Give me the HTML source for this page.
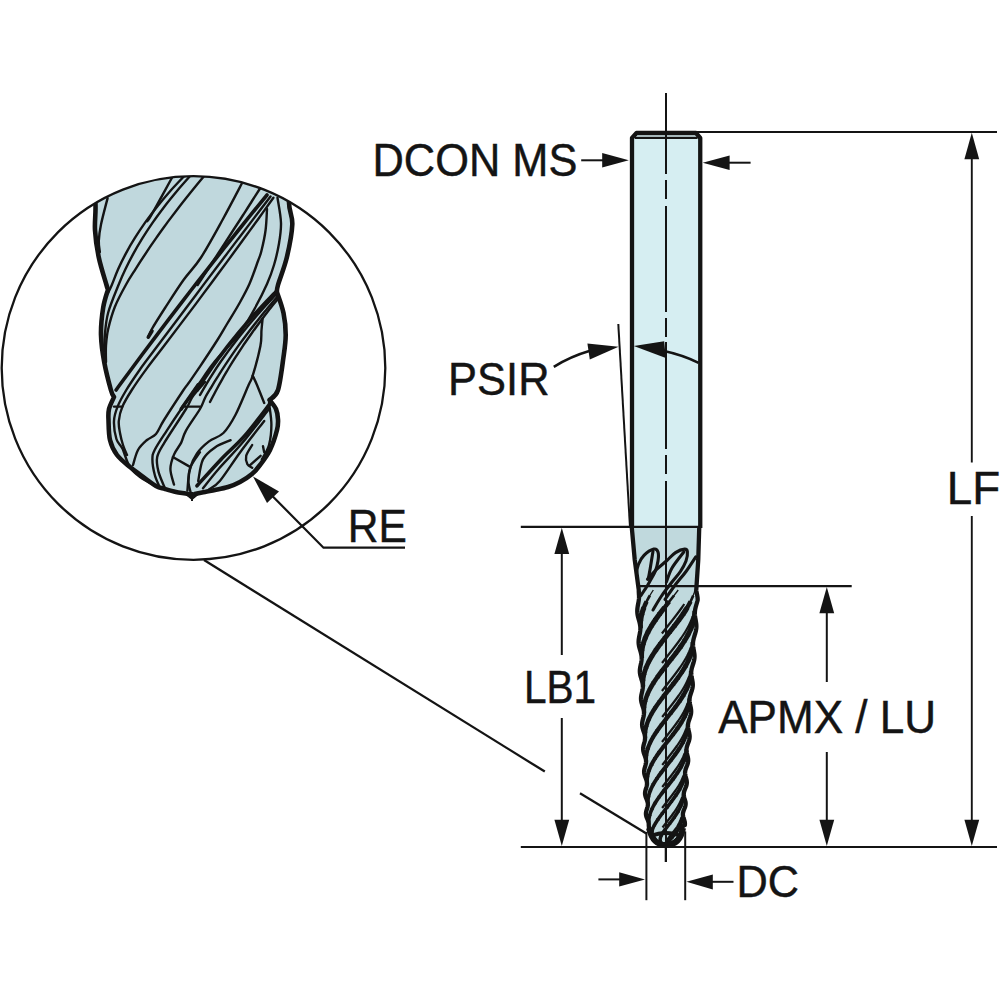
<!DOCTYPE html>
<html><head><meta charset="utf-8"><style>
html,body{margin:0;padding:0;background:#fff;width:1000px;height:1000px;overflow:hidden}
svg{display:block}
text{font-family:"Liberation Sans",sans-serif;fill:#141414;stroke:#141414;stroke-width:0.45px}
</style></head><body>
<svg width="1000" height="1000" viewBox="0 0 1000 1000">
<clipPath id="circclip"><circle cx="193.5" cy="368" r="191.7"/></clipPath>
<g clip-path="url(#circclip)">
<path d="M93.0,165.0 C93.4,171.6 95.2,193.9 95.5,204.7 C95.8,215.5 94.5,221.2 95.0,230.0 C95.5,238.8 96.9,248.3 98.8,257.5 C100.7,266.7 105.0,279.7 106.5,285.0 C108.0,290.3 107.8,288.8 108.0,289.5 C107.2,292.5 104.4,299.9 103.2,307.5 C102.0,315.1 100.8,325.8 101.0,335.0 C101.2,344.2 102.6,353.3 104.3,362.5 C106.0,371.7 109.3,384.2 110.9,390.0 C112.5,395.8 113.5,395.8 114.0,397.0 C113.2,399.0 109.9,405.2 109.0,409.0 C108.1,412.8 108.3,414.8 108.5,420.0 C108.7,425.2 108.6,434.2 110.0,440.0 C111.4,445.8 113.7,450.5 117.0,455.0 C120.3,459.5 125.8,463.5 130.0,467.0 C134.2,470.5 137.7,472.8 142.0,476.0 C146.3,479.2 152.2,483.8 156.0,486.0 C159.8,488.2 161.7,488.0 165.0,489.0 C168.3,490.0 172.2,491.2 176.0,492.0 C179.8,492.8 185.2,493.3 188.0,494.0 C190.8,494.7 191.8,495.7 192.5,496.0 C192.9,495.7 192.9,494.7 195.0,494.0 C197.1,493.3 201.7,492.7 205.0,492.0 C208.3,491.3 211.2,490.8 215.0,490.0 C218.8,489.2 223.8,488.3 228.0,487.0 C232.2,485.7 236.0,484.2 240.0,482.0 C244.0,479.8 248.7,476.8 252.0,474.0 C255.3,471.2 257.0,469.0 260.0,465.0 C263.0,461.0 267.2,455.8 270.0,450.0 C272.8,444.2 275.7,435.1 277.0,430.0 C278.3,424.9 278.2,422.9 278.0,419.4 C277.8,415.9 277.4,412.2 276.0,409.0 C274.6,405.8 270.6,401.5 269.5,400.0 C270.9,398.3 275.7,397.2 278.0,390.0 C280.3,382.8 282.2,366.2 283.5,357.0 C284.8,347.8 285.7,342.3 285.7,335.0 C285.7,327.7 285.0,320.2 283.5,313.0 C282.0,305.8 278.0,295.5 276.9,292.0 C277.1,290.8 276.4,290.8 278.0,285.0 C279.6,279.2 284.4,267.6 286.8,257.5 C289.2,247.4 291.9,233.7 292.3,224.5 C292.7,215.3 289.1,212.4 289.0,202.5 C288.9,192.6 291.5,171.2 292.0,165.0 Z" fill="#c0d8dd"/>
<g fill="none" stroke="#141414" stroke-width="2.4" stroke-linecap="round" stroke-linejoin="round">
<path d="M107.6,198.1 C106.5,202.5 102.5,217.3 101.0,224.5 C99.5,231.7 99.0,236.4 98.8,241.0 C98.6,245.6 99.7,250.2 99.9,252.0"/>
<path d="M173.0,176.0 C169.4,182.4 155.9,207.1 151.6,214.6 C147.3,222.1 147.9,220.1 147.2,221.2"/>
<path d="M185.2,175.0 C182.8,177.6 175.2,185.5 170.5,190.7 C165.9,196.0 161.5,201.2 157.3,206.4 C153.1,211.7 149.1,216.9 145.4,222.1 C141.7,227.4 138.2,232.6 134.9,237.9 C131.6,243.1 128.6,248.3 125.8,253.6 C123.0,258.8 120.4,264.0 118.1,269.3 C115.8,274.5 113.5,281.0 111.8,285.0 C110.1,289.0 108.6,291.7 108.0,293.0"/>
<path d="M191.0,175.0 C188.7,177.6 181.6,185.5 177.2,190.7 C172.8,196.0 168.5,201.2 164.5,206.4 C160.5,211.7 156.6,216.9 153.0,222.1 C149.3,227.4 145.9,232.6 142.6,237.9 C139.4,243.1 136.3,248.3 133.4,253.6 C130.5,258.8 127.9,264.0 125.4,269.3 C122.9,274.5 121.4,277.8 118.5,285.0 C115.6,292.2 110.5,304.2 108.2,312.5 C105.9,320.8 105.5,328.1 104.9,334.5 C104.3,340.9 104.6,348.2 104.5,351.0"/>
<path d="M205.0,175.0 C202.8,177.6 196.2,185.5 192.0,190.7 C187.7,196.0 183.6,201.2 179.5,206.4 C175.5,211.7 171.5,216.9 167.6,222.1 C163.8,227.4 160.0,232.6 156.3,237.9 C152.6,243.1 149.0,248.3 145.6,253.6 C142.1,258.8 138.7,264.0 135.4,269.3 C132.1,274.5 129.2,278.7 125.8,285.0 C122.3,291.3 117.7,299.7 114.8,307.0 C111.9,314.3 109.7,322.6 108.2,329.0 C106.7,335.4 106.4,340.0 106.0,345.5 C105.6,351.0 106.0,359.2 106.0,362.0"/>
<path d="M241.7,183.8 C238.6,189.7 229.8,206.7 223.0,219.0 C216.2,231.3 207.6,247.3 201.0,257.5 C194.4,267.7 189.5,271.6 183.5,280.0 C177.5,288.4 170.3,299.8 165.0,308.0 C159.7,316.2 154.4,324.6 151.6,329.5 C148.8,334.4 148.9,335.9 148.3,337.2"/>
<path d="M261.0,187.0 C259.5,189.3 255.0,196.3 252.0,201.0 C249.1,205.7 246.1,210.3 243.1,215.0 C240.1,219.7 237.1,224.3 234.0,229.0 C231.0,233.7 228.0,238.3 225.0,243.0 C222.0,247.7 218.9,252.3 215.9,257.0 C212.8,261.7 209.8,266.3 206.7,271.0 C203.7,275.7 199.1,282.7 197.6,285.0"/>
<path d="M270.5,196.4 C267.8,200.0 259.6,210.7 254.2,217.9 C248.7,225.1 243.3,232.3 237.8,239.4 C232.4,246.6 227.0,253.8 221.5,260.9 C216.1,268.1 210.7,275.3 205.3,282.4 C199.9,289.6 194.5,296.8 189.1,304.0 C183.7,311.1 178.3,318.3 172.9,325.5 C167.5,332.6 162.1,339.8 156.7,347.0 C151.4,354.1 145.7,361.3 140.6,368.5 C135.6,375.7 130.1,383.6 126.3,390.0 C122.5,396.4 119.6,401.4 117.6,406.6 C115.5,411.8 114.2,415.6 114.0,421.0 C113.8,426.4 115.0,434.4 116.4,439.0 C117.8,443.6 120.2,444.0 122.4,448.6 C124.6,453.2 126.7,461.9 129.6,466.6 C132.5,471.3 135.4,473.6 140.0,477.0 C144.6,480.4 154.3,485.3 157.2,487.0"/>
<path d="M273.4,197.8 C270.8,201.4 263.2,212.0 258.1,219.2 C252.9,226.3 247.8,233.4 242.6,240.5 C237.4,247.6 232.2,254.7 227.0,261.9 C221.7,269.0 216.5,276.1 211.2,283.2 C205.9,290.3 200.6,297.5 195.3,304.6 C190.0,311.7 184.6,318.8 179.2,325.9 C173.8,333.1 168.4,340.2 163.0,347.3 C157.6,354.4 151.9,361.5 146.7,368.6 C141.4,375.8 135.8,383.7 131.8,390.0 C127.8,396.3 124.6,401.4 122.4,406.6 C120.2,411.8 119.2,416.6 118.8,421.0 C118.4,425.4 119.3,429.0 120.0,433.0 C120.7,437.0 121.8,441.3 123.0,445.0 C124.2,448.7 126.3,453.3 127.0,455.0"/>
<path d="M267.0,209.0 C266.8,212.5 266.5,223.0 265.6,230.0 C264.7,237.0 262.7,245.8 261.4,251.0 C260.1,256.2 260.0,255.5 258.0,261.0 C256.0,266.5 252.6,276.8 249.4,284.0 C246.2,291.2 242.7,297.3 239.0,304.0 C235.3,310.7 230.6,318.0 227.0,324.0 C223.4,330.0 221.4,333.7 217.4,340.0 C213.4,346.3 207.6,355.1 203.0,362.0 C198.4,368.9 193.2,376.5 190.0,381.2 C186.8,385.9 187.8,383.5 183.5,390.0 C179.2,396.5 168.6,412.7 164.0,420.0 C159.4,427.3 158.8,430.7 156.0,434.0 C153.2,437.3 150.0,437.3 147.0,440.0 C144.0,442.7 140.3,445.8 138.0,450.0 C135.7,454.2 133.8,462.5 133.0,465.0"/>
<path d="M277.5,197.8 C278.1,202.0 280.8,215.3 281.0,223.0 C281.2,230.7 280.1,237.0 278.9,244.0 C277.7,251.0 276.0,258.3 274.0,265.0 C272.0,271.7 270.2,276.8 267.0,284.0 C263.8,291.2 259.4,300.0 255.0,308.0 C250.6,316.0 245.6,325.0 240.6,332.0 C235.6,339.0 229.8,344.5 225.0,350.0 C220.2,355.5 216.5,359.2 212.0,365.0 C207.5,370.8 203.1,377.7 198.0,385.0 C192.9,392.3 186.4,401.4 181.2,409.0 C176.0,416.6 171.2,423.8 166.8,430.6 C162.4,437.4 157.2,445.0 154.8,449.8 C152.4,454.6 152.4,455.2 152.4,459.4 C152.4,463.6 153.6,470.4 154.8,475.0 C156.0,479.6 158.8,485.0 159.6,487.0"/>
<path d="M205.0,382.0 C203.0,384.3 196.2,391.5 193.0,396.0 C189.8,400.5 190.8,401.2 186.0,409.0 C181.2,416.8 169.2,434.6 164.4,442.6 C159.6,450.6 158.2,452.2 157.2,457.0 C156.2,461.8 157.2,466.4 158.4,471.4 C159.6,476.4 163.4,484.4 164.4,487.0"/>
<path d="M276.5,294.0 C274.8,295.9 269.4,301.5 266.0,305.2 C262.6,309.0 259.3,312.7 256.0,316.4 C252.8,320.2 249.6,323.9 246.5,327.7 C243.5,331.4 240.5,335.1 237.5,338.9 C234.6,342.6 231.8,346.4 229.0,350.1 C226.3,353.9 223.6,357.6 221.0,361.3 C218.4,365.1 215.9,368.8 213.5,372.6 C211.1,376.3 208.8,380.0 206.5,383.8 C204.3,387.5 201.1,393.1 200.0,395.0"/>
<path d="M277.0,297.0 C275.4,298.9 270.6,304.5 267.5,308.2 C264.4,312.0 261.3,315.7 258.4,319.4 C255.4,323.2 252.5,326.9 249.6,330.7 C246.8,334.4 244.0,338.1 241.2,341.9 C238.5,345.6 235.8,349.4 233.2,353.1 C230.6,356.9 228.1,360.6 225.6,364.3 C223.1,368.1 220.7,371.8 218.4,375.6 C216.0,379.3 213.7,383.0 211.5,386.8 C209.3,390.5 206.9,394.3 205.0,398.0 C203.1,401.7 203.2,403.6 200.0,409.0 C196.8,414.4 189.1,425.0 186.0,430.6 C182.9,436.2 183.2,438.6 181.2,442.6 C179.2,446.6 175.8,450.2 174.0,454.6 C172.2,459.0 170.4,464.0 170.4,469.0 C170.4,474.0 173.4,482.0 174.0,484.6"/>
<path d="M277.0,300.0 C275.5,301.9 270.9,307.6 268.0,311.3 C265.1,315.1 262.2,318.9 259.4,322.7 C256.6,326.4 253.9,330.2 251.2,334.0 C248.5,337.8 245.9,341.6 243.3,345.3 C240.8,349.1 238.3,352.9 235.9,356.7 C233.5,360.4 231.1,364.2 228.8,368.0 C226.6,371.8 224.3,375.6 222.2,379.3 C220.0,383.1 217.9,386.9 215.9,390.7 C213.9,394.4 211.0,400.1 210.0,402.0"/>
<path d="M262.6,318.5 C262.4,320.4 261.9,325.4 261.5,330.0 C261.1,334.6 261.9,338.4 260.4,346.0 C258.9,353.6 254.7,369.2 252.7,375.7 C250.7,382.2 251.5,378.4 248.6,385.0 C245.7,391.6 239.6,407.0 235.4,415.0 C231.2,423.0 227.8,428.6 223.4,433.0 C219.0,437.4 213.4,438.0 209.0,441.4 C204.6,444.8 200.2,448.8 197.0,453.4 C193.8,458.0 191.4,462.8 189.8,469.0 C188.2,475.2 187.8,487.0 187.4,490.6"/>
<path d="M252.7,375.7 C253.4,377.2 255.1,380.4 257.0,385.0 C258.9,389.6 263.0,400.0 264.2,403.0"/>
<path d="M269.0,403.0 C269.4,406.6 271.4,417.6 271.4,424.6 C271.4,431.6 270.6,439.2 269.0,445.0 C267.4,450.8 263.0,457.0 261.8,459.4"/>
<path d="M269.0,409.0 C264.6,414.6 251.0,432.6 242.6,442.6 C234.2,452.6 225.2,461.4 218.6,469.0 C212.0,476.6 205.6,485.0 203.0,488.2"/>
<path d="M264.2,421.0 C260.2,426.2 247.6,442.2 240.2,452.2 C232.8,462.2 225.0,474.8 219.8,481.0 C214.6,487.2 210.8,488.0 209.0,489.4"/>
<path d="M230.6,440.2 C228.0,441.4 219.6,444.2 215.0,447.4 C210.4,450.6 205.8,453.8 203.0,459.4 C200.2,465.0 199.0,477.4 198.2,481.0"/>
<path d="M252.2,445.0 C251.2,446.8 247.0,452.6 246.2,455.8 C245.4,459.0 246.4,462.2 247.4,464.2 C248.4,466.2 251.4,467.2 252.2,467.8"/>
<path d="M249.8,465.4 L260.6,455.8"/>
<path d="M263.0,446.2 L264.2,452.2"/>
<path d="M114.0,406.6 L122.4,406.6"/>
<path d="M182.4,406.6 L200.0,406.6"/>
<path d="M200.0,452.2 C198.5,454.6 192.7,461.8 190.8,466.6 C188.9,471.4 188.4,476.6 188.4,481.0 C188.4,485.4 190.4,491.0 190.8,493.0"/>
<path d="M172.8,457.0 L189.6,466.6"/>
</g>
<g fill="none" stroke="#141414" stroke-width="3.6" stroke-linecap="round" stroke-linejoin="round">
<path d="M267.0,195.0 C264.6,198.0 257.3,206.8 252.5,212.7 C247.7,218.6 243.0,224.5 238.2,230.5 C233.5,236.4 228.8,242.3 224.1,248.2 C219.4,254.1 214.7,260.0 210.1,265.9 C205.4,271.8 200.8,277.7 196.2,283.6 C191.6,289.5 187.0,295.5 182.5,301.4 C177.9,307.3 173.4,313.2 168.9,319.1 C164.4,325.0 159.9,330.9 155.5,336.8 C151.0,342.7 146.6,348.6 142.2,354.5 C137.8,360.5 133.4,366.4 129.1,372.3 C124.7,378.2 118.2,387.0 116.1,390.0"/>
<path d="M275.7,292.0 C273.9,293.8 268.6,299.3 265.1,302.9 C261.7,306.5 258.3,310.1 255.0,313.8 C251.8,317.4 248.5,321.0 245.4,324.7 C242.3,328.3 239.2,331.9 236.2,335.6 C233.2,339.2 230.3,342.8 227.5,346.4 C224.7,350.1 221.9,353.7 219.2,357.3 C216.6,361.0 214.0,364.6 211.4,368.2 C208.9,371.9 206.5,375.5 204.1,379.1 C201.7,382.7 198.3,388.2 197.2,390.0"/>
<path d="M271.4,401.8 C267.0,407.4 253.4,425.8 245.0,435.4 C236.6,445.0 229.0,451.0 221.0,459.4 C213.0,467.8 201.0,481.4 197.0,485.8"/>
<path d="M198.0,385.0 L181.2,409.0"/>
<path d="M152.0,331.0 L148.3,337.2"/>
</g>
<path d="M93.0,165.0 C93.4,171.6 95.2,193.9 95.5,204.7 C95.8,215.5 94.5,221.2 95.0,230.0 C95.5,238.8 96.9,248.3 98.8,257.5 C100.7,266.7 105.0,279.7 106.5,285.0 C108.0,290.3 107.8,288.8 108.0,289.5 C107.2,292.5 104.4,299.9 103.2,307.5 C102.0,315.1 100.8,325.8 101.0,335.0 C101.2,344.2 102.6,353.3 104.3,362.5 C106.0,371.7 109.3,384.2 110.9,390.0 C112.5,395.8 113.5,395.8 114.0,397.0 C113.2,399.0 109.9,405.2 109.0,409.0 C108.1,412.8 108.3,414.8 108.5,420.0 C108.7,425.2 108.6,434.2 110.0,440.0 C111.4,445.8 113.7,450.5 117.0,455.0 C120.3,459.5 125.8,463.5 130.0,467.0 C134.2,470.5 137.7,472.8 142.0,476.0 C146.3,479.2 152.2,483.8 156.0,486.0 C159.8,488.2 161.7,488.0 165.0,489.0 C168.3,490.0 172.2,491.2 176.0,492.0 C179.8,492.8 185.2,493.3 188.0,494.0 C190.8,494.7 191.8,495.7 192.5,496.0" fill="none" stroke="#141414" stroke-width="4.6" stroke-linejoin="round"/>
<path d="M292.0,165.0 C291.5,171.2 288.9,192.6 289.0,202.5 C289.1,212.4 292.7,215.3 292.3,224.5 C291.9,233.7 289.2,247.4 286.8,257.5 C284.4,267.6 279.6,279.2 278.0,285.0 C276.4,290.8 277.1,290.8 276.9,292.0 C278.0,295.5 282.0,305.8 283.5,313.0 C285.0,320.2 285.7,327.7 285.7,335.0 C285.7,342.3 284.8,347.8 283.5,357.0 C282.2,366.2 280.3,382.8 278.0,390.0 C275.7,397.2 270.9,398.3 269.5,400.0 C270.6,401.5 274.6,405.8 276.0,409.0 C277.4,412.2 277.8,415.9 278.0,419.4 C278.2,422.9 278.3,424.9 277.0,430.0 C275.7,435.1 272.8,444.2 270.0,450.0 C267.2,455.8 263.0,461.0 260.0,465.0 C257.0,469.0 255.3,471.2 252.0,474.0 C248.7,476.8 244.0,479.8 240.0,482.0 C236.0,484.2 232.2,485.7 228.0,487.0 C223.8,488.3 218.8,489.2 215.0,490.0 C211.2,490.8 208.3,491.3 205.0,492.0 C201.7,492.7 197.1,493.3 195.0,494.0 C192.9,494.7 192.9,495.7 192.5,496.0" fill="none" stroke="#141414" stroke-width="4.6" stroke-linejoin="round"/>
<path d="M186,494 L192,499 L198,494 M192,492 L192,501" stroke="#141414" stroke-width="2" fill="none"/>
</g>
<path d="M632,138 L636.5,133 L696,133 L700.25,138 L700.25,527 L632,527 Z" fill="#d6eef2"/>
<line x1="635" y1="137.9" x2="697.5" y2="137.9" stroke="#141414" stroke-width="2.3"/>
<clipPath id="bodyclip"><path d="M631.75,527.00 L631.84,528.00 L631.93,529.00 L632.02,530.00 L632.11,531.00 L632.20,532.00 L632.30,533.00 L632.39,534.00 L632.48,535.00 L632.57,536.00 L632.66,537.00 L632.75,538.00 L632.84,539.00 L632.93,540.00 L633.02,541.00 L633.11,542.00 L633.20,543.00 L633.30,544.00 L633.39,545.00 L633.48,546.00 L633.57,547.00 L633.66,548.00 L633.75,549.00 L633.84,550.00 L633.93,551.00 L634.02,552.00 L634.11,553.00 L634.20,554.00 L634.30,555.00 L634.39,556.00 L634.48,557.00 L634.57,558.00 L634.66,559.00 L634.75,560.00 L634.88,561.00 L635.02,562.00 L635.15,563.00 L635.28,564.00 L635.42,565.00 L635.55,566.00 L635.68,567.00 L635.82,568.00 L635.95,569.00 L636.08,570.00 L636.22,571.00 L636.35,572.00 L636.48,573.00 L636.62,574.00 L636.75,575.00 L636.88,576.00 L637.02,577.00 L637.15,578.00 L637.28,579.00 L637.42,580.00 L637.55,581.00 L637.68,582.00 L637.82,583.00 L637.95,584.00 L638.08,585.00 L638.22,586.00 L638.35,587.00 L638.48,588.00 L638.62,589.00 L638.75,590.00 L638.75,591.00 L638.77,592.00 L638.83,593.00 L638.89,594.00 L638.96,595.00 L639.01,596.00 L639.03,597.00 L639.01,598.00 L638.93,599.00 L638.80,600.00 L638.66,601.00 L638.50,602.00 L638.32,603.00 L638.13,604.00 L637.94,605.00 L637.76,606.00 L637.59,607.00 L637.46,608.00 L637.35,609.00 L637.29,610.00 L637.26,611.00 L637.29,612.00 L637.36,613.00 L637.47,614.00 L637.63,615.00 L637.83,616.00 L638.06,617.00 L638.32,618.00 L638.59,619.00 L638.87,620.00 L639.16,621.00 L639.43,622.00 L639.68,623.00 L639.90,624.00 L640.08,625.00 L640.22,626.00 L640.32,627.00 L640.37,628.00 L640.36,629.00 L640.31,630.00 L640.22,631.00 L640.08,632.00 L639.92,633.00 L639.73,634.00 L639.53,635.00 L639.32,636.00 L639.12,637.00 L638.94,638.00 L638.79,639.00 L638.68,640.00 L638.61,641.00 L638.58,642.00 L638.61,643.00 L638.69,644.00 L638.82,645.00 L639.00,646.00 L639.22,647.00 L639.48,648.00 L639.76,649.00 L640.06,650.00 L640.35,651.00 L640.64,652.00 L640.91,653.00 L641.15,654.00 L641.35,655.00 L641.50,656.00 L641.60,657.00 L641.64,658.00 L641.63,659.00 L641.56,660.00 L641.45,661.00 L641.29,662.00 L641.11,663.00 L640.90,664.00 L640.68,665.00 L640.46,666.00 L640.26,667.00 L640.08,668.00 L639.95,669.00 L639.86,670.00 L639.82,671.00 L639.85,672.00 L639.93,673.00 L640.07,674.00 L640.26,675.00 L640.50,676.00 L640.78,677.00 L641.08,678.00 L641.39,679.00 L641.70,680.00 L641.99,681.00 L642.26,682.00 L642.49,683.00 L642.66,684.00 L642.78,685.00 L642.84,686.00 L642.83,687.00 L642.77,688.00 L642.64,689.00 L642.48,690.00 L642.27,691.00 L642.04,692.00 L641.81,693.00 L641.58,694.00 L641.37,695.00 L641.20,696.00 L641.07,697.00 L641.00,698.00 L641.00,699.00 L641.06,700.00 L641.19,701.00 L641.38,702.00 L641.62,703.00 L641.91,704.00 L642.22,705.00 L642.55,706.00 L642.88,707.00 L643.18,708.00 L643.46,709.00 L643.68,710.00 L643.85,711.00 L643.95,712.00 L643.97,713.00 L643.93,714.00 L643.83,715.00 L643.66,716.00 L643.45,717.00 L643.21,718.00 L642.96,719.00 L642.71,720.00 L642.49,721.00 L642.30,722.00 L642.17,723.00 L642.10,724.00 L642.10,725.00 L642.18,726.00 L642.34,727.00 L642.56,728.00 L642.83,729.00 L643.15,730.00 L643.49,731.00 L643.84,732.00 L644.17,733.00 L644.47,734.00 L644.72,735.00 L644.90,736.00 L645.01,737.00 L645.04,738.00 L644.99,739.00 L644.87,740.00 L644.68,741.00 L644.45,742.00 L644.18,743.00 L643.91,744.00 L643.65,745.00 L643.43,746.00 L643.26,747.00 L643.15,748.00 L643.13,749.00 L643.19,750.00 L643.33,751.00 L643.55,752.00 L643.84,753.00 L644.17,754.00 L644.53,755.00 L644.90,756.00 L645.24,757.00 L645.55,758.00 L645.79,759.00 L645.96,760.00 L646.04,761.00 L646.03,762.00 L645.93,763.00 L645.76,764.00 L645.52,765.00 L645.25,766.00 L644.96,767.00 L644.68,768.00 L644.43,769.00 L644.24,770.00 L644.13,771.00 L644.11,772.00 L644.18,773.00 L644.35,774.00 L644.60,775.00 L644.92,776.00 L645.28,777.00 L645.67,778.00 L646.04,779.00 L646.39,780.00 L646.67,781.00 L646.87,782.00 L646.97,783.00 L646.98,784.00 L646.89,785.00 L646.70,786.00 L646.45,787.00 L646.16,788.00 L645.85,789.00 L645.55,790.00 L645.30,791.00 L645.12,792.00 L645.03,793.00 L645.05,794.00 L645.17,795.00 L645.40,796.00 L645.71,797.00 L646.08,798.00 L646.48,799.00 L646.88,800.00 L647.25,801.00 L647.56,802.00 L647.77,803.00 L647.88,804.00 L647.87,805.00 L647.75,806.00 L647.54,807.00 L647.26,808.00 L646.94,809.00 L646.61,810.00 L646.32,811.00 L646.09,812.00 L645.95,813.00 L645.92,814.00 L646.01,815.00 L646.21,816.00 L646.51,817.00 L646.89,818.00 L647.31,819.00 L647.73,820.00 L648.12,821.00 L648.44,822.00 L648.66,823.00 L648.76,824.00 L648.73,825.00 L648.85,826.57 L649.01,828.13 L649.27,829.67 L649.62,831.18 L650.08,832.65 L650.64,834.08 L651.28,835.45 L652.02,836.76 L652.84,837.99 L653.74,839.14 L654.71,840.21 L655.75,841.18 L656.85,842.05 L658.00,842.82 L659.20,843.48 L660.44,844.02 L661.72,844.45 L663.01,844.75 L664.33,844.94 L665.65,845.00 L666.97,844.94 L668.29,844.75 L669.58,844.45 L670.86,844.02 L672.10,843.48 L673.30,842.82 L674.45,842.05 L675.55,841.18 L676.59,840.21 L677.56,839.14 L678.46,837.99 L679.28,836.76 L680.02,835.45 L680.66,834.08 L681.22,832.65 L681.68,831.18 L682.03,829.67 L682.29,828.13 L682.45,826.57 L684.83,825.00 L684.94,824.00 L684.92,823.00 L684.78,822.00 L684.54,821.00 L684.23,820.00 L683.89,819.00 L683.55,818.00 L683.25,817.00 L683.03,816.00 L682.91,815.00 L682.90,814.00 L683.01,813.00 L683.23,812.00 L683.54,811.00 L683.91,810.00 L684.32,809.00 L684.72,808.00 L685.08,807.00 L685.37,806.00 L685.57,805.00 L685.66,804.00 L685.63,803.00 L685.50,802.00 L685.27,801.00 L684.98,800.00 L684.68,799.00 L684.38,798.00 L684.12,797.00 L683.91,796.00 L683.79,795.00 L683.77,794.00 L683.86,793.00 L684.05,792.00 L684.33,791.00 L684.69,790.00 L685.09,789.00 L685.50,788.00 L685.90,787.00 L686.26,786.00 L686.54,785.00 L686.74,784.00 L686.84,783.00 L686.84,782.00 L686.74,781.00 L686.56,780.00 L686.32,779.00 L686.05,778.00 L685.77,777.00 L685.51,776.00 L685.29,775.00 L685.15,774.00 L685.08,773.00 L685.12,772.00 L685.24,771.00 L685.46,770.00 L685.75,769.00 L686.10,768.00 L686.48,767.00 L686.88,766.00 L687.26,765.00 L687.59,764.00 L687.87,763.00 L688.07,762.00 L688.19,761.00 L688.21,760.00 L688.15,759.00 L688.01,758.00 L687.81,757.00 L687.57,756.00 L687.30,755.00 L687.05,754.00 L686.82,753.00 L686.64,752.00 L686.52,751.00 L686.48,750.00 L686.52,749.00 L686.65,748.00 L686.86,747.00 L687.14,746.00 L687.46,745.00 L687.83,744.00 L688.20,743.00 L688.57,742.00 L688.91,741.00 L689.20,740.00 L689.42,739.00 L689.58,738.00 L689.65,737.00 L689.65,736.00 L689.57,735.00 L689.42,734.00 L689.23,733.00 L689.00,732.00 L688.76,731.00 L688.52,730.00 L688.30,729.00 L688.13,728.00 L688.01,727.00 L687.97,726.00 L687.99,725.00 L688.09,724.00 L688.26,723.00 L688.50,722.00 L688.79,721.00 L689.12,720.00 L689.47,719.00 L689.82,718.00 L690.17,717.00 L690.48,716.00 L690.75,715.00 L690.96,714.00 L691.11,713.00 L691.18,712.00 L691.19,711.00 L691.12,710.00 L691.00,709.00 L690.83,708.00 L690.63,707.00 L690.41,706.00 L690.18,705.00 L689.97,704.00 L689.79,703.00 L689.65,702.00 L689.56,701.00 L689.54,700.00 L689.58,699.00 L689.69,698.00 L689.86,697.00 L690.09,696.00 L690.37,695.00 L690.68,694.00 L691.01,693.00 L691.35,692.00 L691.69,691.00 L691.99,690.00 L692.27,689.00 L692.49,688.00 L692.66,687.00 L692.77,686.00 L692.82,685.00 L692.81,684.00 L692.73,683.00 L692.61,682.00 L692.45,681.00 L692.26,680.00 L692.05,679.00 L691.84,678.00 L691.64,677.00 L691.47,676.00 L691.34,675.00 L691.25,674.00 L691.21,673.00 L691.23,672.00 L691.31,671.00 L691.45,670.00 L691.65,669.00 L691.89,668.00 L692.16,667.00 L692.47,666.00 L692.79,665.00 L693.11,664.00 L693.43,663.00 L693.72,662.00 L693.98,661.00 L694.20,660.00 L694.37,659.00 L694.48,658.00 L694.54,657.00 L694.55,656.00 L694.50,655.00 L694.40,654.00 L694.27,653.00 L694.11,652.00 L693.92,651.00 L693.73,650.00 L693.54,649.00 L693.36,648.00 L693.21,647.00 L693.09,646.00 L693.01,645.00 L692.99,644.00 L693.01,643.00 L693.08,642.00 L693.21,641.00 L693.39,640.00 L693.61,639.00 L693.86,638.00 L694.14,637.00 L694.45,636.00 L694.75,635.00 L695.06,634.00 L695.35,633.00 L695.62,632.00 L695.86,631.00 L696.06,630.00 L696.21,629.00 L696.32,628.00 L696.38,627.00 L696.39,626.00 L696.35,625.00 L696.27,624.00 L696.15,623.00 L696.00,622.00 L695.84,621.00 L695.66,620.00 L695.48,619.00 L695.31,618.00 L695.16,617.00 L695.03,616.00 L694.94,615.00 L694.88,614.00 L694.87,613.00 L694.90,612.00 L694.98,611.00 L695.11,610.00 L695.28,609.00 L695.49,608.00 L695.73,607.00 L696.00,606.00 L696.28,605.00 L696.57,604.00 L696.87,603.00 L697.15,602.00 L697.42,601.00 L697.66,600.00 L697.66,599.00 L697.60,598.00 L697.48,597.00 L697.32,596.00 L697.14,595.00 L696.94,594.00 L696.74,593.00 L696.55,592.00 L696.38,591.00 L696.25,590.00 L696.32,589.00 L696.38,588.00 L696.45,587.00 L696.52,586.00 L696.58,585.00 L696.65,584.00 L696.72,583.00 L696.78,582.00 L696.85,581.00 L696.92,580.00 L696.98,579.00 L697.05,578.00 L697.12,577.00 L697.18,576.00 L697.25,575.00 L697.32,574.00 L697.38,573.00 L697.45,572.00 L697.52,571.00 L697.58,570.00 L697.65,569.00 L697.72,568.00 L697.78,567.00 L697.85,566.00 L697.92,565.00 L697.98,564.00 L698.05,563.00 L698.12,562.00 L698.18,561.00 L698.25,560.00 L698.28,559.00 L698.31,558.00 L698.34,557.00 L698.37,556.00 L698.40,555.00 L698.43,554.00 L698.46,553.00 L698.49,552.00 L698.52,551.00 L698.55,550.00 L698.58,549.00 L698.61,548.00 L698.64,547.00 L698.67,546.00 L698.70,545.00 L698.73,544.00 L698.77,543.00 L698.80,542.00 L698.83,541.00 L698.86,540.00 L698.89,539.00 L698.92,538.00 L698.95,537.00 L698.98,536.00 L699.01,535.00 L699.04,534.00 L699.07,533.00 L699.10,532.00 L699.13,531.00 L699.16,530.00 L699.19,529.00 L699.22,528.00 L699.25,527.00 Z"/></clipPath>
<path d="M631.75,527.00 L631.84,528.00 L631.93,529.00 L632.02,530.00 L632.11,531.00 L632.20,532.00 L632.30,533.00 L632.39,534.00 L632.48,535.00 L632.57,536.00 L632.66,537.00 L632.75,538.00 L632.84,539.00 L632.93,540.00 L633.02,541.00 L633.11,542.00 L633.20,543.00 L633.30,544.00 L633.39,545.00 L633.48,546.00 L633.57,547.00 L633.66,548.00 L633.75,549.00 L633.84,550.00 L633.93,551.00 L634.02,552.00 L634.11,553.00 L634.20,554.00 L634.30,555.00 L634.39,556.00 L634.48,557.00 L634.57,558.00 L634.66,559.00 L634.75,560.00 L634.88,561.00 L635.02,562.00 L635.15,563.00 L635.28,564.00 L635.42,565.00 L635.55,566.00 L635.68,567.00 L635.82,568.00 L635.95,569.00 L636.08,570.00 L636.22,571.00 L636.35,572.00 L636.48,573.00 L636.62,574.00 L636.75,575.00 L636.88,576.00 L637.02,577.00 L637.15,578.00 L637.28,579.00 L637.42,580.00 L637.55,581.00 L637.68,582.00 L637.82,583.00 L637.95,584.00 L638.08,585.00 L638.22,586.00 L638.35,587.00 L638.48,588.00 L638.62,589.00 L638.75,590.00 L638.75,591.00 L638.77,592.00 L638.83,593.00 L638.89,594.00 L638.96,595.00 L639.01,596.00 L639.03,597.00 L639.01,598.00 L638.93,599.00 L638.80,600.00 L638.66,601.00 L638.50,602.00 L638.32,603.00 L638.13,604.00 L637.94,605.00 L637.76,606.00 L637.59,607.00 L637.46,608.00 L637.35,609.00 L637.29,610.00 L637.26,611.00 L637.29,612.00 L637.36,613.00 L637.47,614.00 L637.63,615.00 L637.83,616.00 L638.06,617.00 L638.32,618.00 L638.59,619.00 L638.87,620.00 L639.16,621.00 L639.43,622.00 L639.68,623.00 L639.90,624.00 L640.08,625.00 L640.22,626.00 L640.32,627.00 L640.37,628.00 L640.36,629.00 L640.31,630.00 L640.22,631.00 L640.08,632.00 L639.92,633.00 L639.73,634.00 L639.53,635.00 L639.32,636.00 L639.12,637.00 L638.94,638.00 L638.79,639.00 L638.68,640.00 L638.61,641.00 L638.58,642.00 L638.61,643.00 L638.69,644.00 L638.82,645.00 L639.00,646.00 L639.22,647.00 L639.48,648.00 L639.76,649.00 L640.06,650.00 L640.35,651.00 L640.64,652.00 L640.91,653.00 L641.15,654.00 L641.35,655.00 L641.50,656.00 L641.60,657.00 L641.64,658.00 L641.63,659.00 L641.56,660.00 L641.45,661.00 L641.29,662.00 L641.11,663.00 L640.90,664.00 L640.68,665.00 L640.46,666.00 L640.26,667.00 L640.08,668.00 L639.95,669.00 L639.86,670.00 L639.82,671.00 L639.85,672.00 L639.93,673.00 L640.07,674.00 L640.26,675.00 L640.50,676.00 L640.78,677.00 L641.08,678.00 L641.39,679.00 L641.70,680.00 L641.99,681.00 L642.26,682.00 L642.49,683.00 L642.66,684.00 L642.78,685.00 L642.84,686.00 L642.83,687.00 L642.77,688.00 L642.64,689.00 L642.48,690.00 L642.27,691.00 L642.04,692.00 L641.81,693.00 L641.58,694.00 L641.37,695.00 L641.20,696.00 L641.07,697.00 L641.00,698.00 L641.00,699.00 L641.06,700.00 L641.19,701.00 L641.38,702.00 L641.62,703.00 L641.91,704.00 L642.22,705.00 L642.55,706.00 L642.88,707.00 L643.18,708.00 L643.46,709.00 L643.68,710.00 L643.85,711.00 L643.95,712.00 L643.97,713.00 L643.93,714.00 L643.83,715.00 L643.66,716.00 L643.45,717.00 L643.21,718.00 L642.96,719.00 L642.71,720.00 L642.49,721.00 L642.30,722.00 L642.17,723.00 L642.10,724.00 L642.10,725.00 L642.18,726.00 L642.34,727.00 L642.56,728.00 L642.83,729.00 L643.15,730.00 L643.49,731.00 L643.84,732.00 L644.17,733.00 L644.47,734.00 L644.72,735.00 L644.90,736.00 L645.01,737.00 L645.04,738.00 L644.99,739.00 L644.87,740.00 L644.68,741.00 L644.45,742.00 L644.18,743.00 L643.91,744.00 L643.65,745.00 L643.43,746.00 L643.26,747.00 L643.15,748.00 L643.13,749.00 L643.19,750.00 L643.33,751.00 L643.55,752.00 L643.84,753.00 L644.17,754.00 L644.53,755.00 L644.90,756.00 L645.24,757.00 L645.55,758.00 L645.79,759.00 L645.96,760.00 L646.04,761.00 L646.03,762.00 L645.93,763.00 L645.76,764.00 L645.52,765.00 L645.25,766.00 L644.96,767.00 L644.68,768.00 L644.43,769.00 L644.24,770.00 L644.13,771.00 L644.11,772.00 L644.18,773.00 L644.35,774.00 L644.60,775.00 L644.92,776.00 L645.28,777.00 L645.67,778.00 L646.04,779.00 L646.39,780.00 L646.67,781.00 L646.87,782.00 L646.97,783.00 L646.98,784.00 L646.89,785.00 L646.70,786.00 L646.45,787.00 L646.16,788.00 L645.85,789.00 L645.55,790.00 L645.30,791.00 L645.12,792.00 L645.03,793.00 L645.05,794.00 L645.17,795.00 L645.40,796.00 L645.71,797.00 L646.08,798.00 L646.48,799.00 L646.88,800.00 L647.25,801.00 L647.56,802.00 L647.77,803.00 L647.88,804.00 L647.87,805.00 L647.75,806.00 L647.54,807.00 L647.26,808.00 L646.94,809.00 L646.61,810.00 L646.32,811.00 L646.09,812.00 L645.95,813.00 L645.92,814.00 L646.01,815.00 L646.21,816.00 L646.51,817.00 L646.89,818.00 L647.31,819.00 L647.73,820.00 L648.12,821.00 L648.44,822.00 L648.66,823.00 L648.76,824.00 L648.73,825.00 L648.85,826.57 L649.01,828.13 L649.27,829.67 L649.62,831.18 L650.08,832.65 L650.64,834.08 L651.28,835.45 L652.02,836.76 L652.84,837.99 L653.74,839.14 L654.71,840.21 L655.75,841.18 L656.85,842.05 L658.00,842.82 L659.20,843.48 L660.44,844.02 L661.72,844.45 L663.01,844.75 L664.33,844.94 L665.65,845.00 L666.97,844.94 L668.29,844.75 L669.58,844.45 L670.86,844.02 L672.10,843.48 L673.30,842.82 L674.45,842.05 L675.55,841.18 L676.59,840.21 L677.56,839.14 L678.46,837.99 L679.28,836.76 L680.02,835.45 L680.66,834.08 L681.22,832.65 L681.68,831.18 L682.03,829.67 L682.29,828.13 L682.45,826.57 L684.83,825.00 L684.94,824.00 L684.92,823.00 L684.78,822.00 L684.54,821.00 L684.23,820.00 L683.89,819.00 L683.55,818.00 L683.25,817.00 L683.03,816.00 L682.91,815.00 L682.90,814.00 L683.01,813.00 L683.23,812.00 L683.54,811.00 L683.91,810.00 L684.32,809.00 L684.72,808.00 L685.08,807.00 L685.37,806.00 L685.57,805.00 L685.66,804.00 L685.63,803.00 L685.50,802.00 L685.27,801.00 L684.98,800.00 L684.68,799.00 L684.38,798.00 L684.12,797.00 L683.91,796.00 L683.79,795.00 L683.77,794.00 L683.86,793.00 L684.05,792.00 L684.33,791.00 L684.69,790.00 L685.09,789.00 L685.50,788.00 L685.90,787.00 L686.26,786.00 L686.54,785.00 L686.74,784.00 L686.84,783.00 L686.84,782.00 L686.74,781.00 L686.56,780.00 L686.32,779.00 L686.05,778.00 L685.77,777.00 L685.51,776.00 L685.29,775.00 L685.15,774.00 L685.08,773.00 L685.12,772.00 L685.24,771.00 L685.46,770.00 L685.75,769.00 L686.10,768.00 L686.48,767.00 L686.88,766.00 L687.26,765.00 L687.59,764.00 L687.87,763.00 L688.07,762.00 L688.19,761.00 L688.21,760.00 L688.15,759.00 L688.01,758.00 L687.81,757.00 L687.57,756.00 L687.30,755.00 L687.05,754.00 L686.82,753.00 L686.64,752.00 L686.52,751.00 L686.48,750.00 L686.52,749.00 L686.65,748.00 L686.86,747.00 L687.14,746.00 L687.46,745.00 L687.83,744.00 L688.20,743.00 L688.57,742.00 L688.91,741.00 L689.20,740.00 L689.42,739.00 L689.58,738.00 L689.65,737.00 L689.65,736.00 L689.57,735.00 L689.42,734.00 L689.23,733.00 L689.00,732.00 L688.76,731.00 L688.52,730.00 L688.30,729.00 L688.13,728.00 L688.01,727.00 L687.97,726.00 L687.99,725.00 L688.09,724.00 L688.26,723.00 L688.50,722.00 L688.79,721.00 L689.12,720.00 L689.47,719.00 L689.82,718.00 L690.17,717.00 L690.48,716.00 L690.75,715.00 L690.96,714.00 L691.11,713.00 L691.18,712.00 L691.19,711.00 L691.12,710.00 L691.00,709.00 L690.83,708.00 L690.63,707.00 L690.41,706.00 L690.18,705.00 L689.97,704.00 L689.79,703.00 L689.65,702.00 L689.56,701.00 L689.54,700.00 L689.58,699.00 L689.69,698.00 L689.86,697.00 L690.09,696.00 L690.37,695.00 L690.68,694.00 L691.01,693.00 L691.35,692.00 L691.69,691.00 L691.99,690.00 L692.27,689.00 L692.49,688.00 L692.66,687.00 L692.77,686.00 L692.82,685.00 L692.81,684.00 L692.73,683.00 L692.61,682.00 L692.45,681.00 L692.26,680.00 L692.05,679.00 L691.84,678.00 L691.64,677.00 L691.47,676.00 L691.34,675.00 L691.25,674.00 L691.21,673.00 L691.23,672.00 L691.31,671.00 L691.45,670.00 L691.65,669.00 L691.89,668.00 L692.16,667.00 L692.47,666.00 L692.79,665.00 L693.11,664.00 L693.43,663.00 L693.72,662.00 L693.98,661.00 L694.20,660.00 L694.37,659.00 L694.48,658.00 L694.54,657.00 L694.55,656.00 L694.50,655.00 L694.40,654.00 L694.27,653.00 L694.11,652.00 L693.92,651.00 L693.73,650.00 L693.54,649.00 L693.36,648.00 L693.21,647.00 L693.09,646.00 L693.01,645.00 L692.99,644.00 L693.01,643.00 L693.08,642.00 L693.21,641.00 L693.39,640.00 L693.61,639.00 L693.86,638.00 L694.14,637.00 L694.45,636.00 L694.75,635.00 L695.06,634.00 L695.35,633.00 L695.62,632.00 L695.86,631.00 L696.06,630.00 L696.21,629.00 L696.32,628.00 L696.38,627.00 L696.39,626.00 L696.35,625.00 L696.27,624.00 L696.15,623.00 L696.00,622.00 L695.84,621.00 L695.66,620.00 L695.48,619.00 L695.31,618.00 L695.16,617.00 L695.03,616.00 L694.94,615.00 L694.88,614.00 L694.87,613.00 L694.90,612.00 L694.98,611.00 L695.11,610.00 L695.28,609.00 L695.49,608.00 L695.73,607.00 L696.00,606.00 L696.28,605.00 L696.57,604.00 L696.87,603.00 L697.15,602.00 L697.42,601.00 L697.66,600.00 L697.66,599.00 L697.60,598.00 L697.48,597.00 L697.32,596.00 L697.14,595.00 L696.94,594.00 L696.74,593.00 L696.55,592.00 L696.38,591.00 L696.25,590.00 L696.32,589.00 L696.38,588.00 L696.45,587.00 L696.52,586.00 L696.58,585.00 L696.65,584.00 L696.72,583.00 L696.78,582.00 L696.85,581.00 L696.92,580.00 L696.98,579.00 L697.05,578.00 L697.12,577.00 L697.18,576.00 L697.25,575.00 L697.32,574.00 L697.38,573.00 L697.45,572.00 L697.52,571.00 L697.58,570.00 L697.65,569.00 L697.72,568.00 L697.78,567.00 L697.85,566.00 L697.92,565.00 L697.98,564.00 L698.05,563.00 L698.12,562.00 L698.18,561.00 L698.25,560.00 L698.28,559.00 L698.31,558.00 L698.34,557.00 L698.37,556.00 L698.40,555.00 L698.43,554.00 L698.46,553.00 L698.49,552.00 L698.52,551.00 L698.55,550.00 L698.58,549.00 L698.61,548.00 L698.64,547.00 L698.67,546.00 L698.70,545.00 L698.73,544.00 L698.77,543.00 L698.80,542.00 L698.83,541.00 L698.86,540.00 L698.89,539.00 L698.92,538.00 L698.95,537.00 L698.98,536.00 L699.01,535.00 L699.04,534.00 L699.07,533.00 L699.10,532.00 L699.13,531.00 L699.16,530.00 L699.19,529.00 L699.22,528.00 L699.25,527.00 Z" fill="#c0d9dd"/>
<g clip-path="url(#bodyclip)"><path d="M678.22,590.00 L677.85,590.50 L677.47,591.00 L677.09,591.50 L676.71,592.00 L676.32,592.50 L675.94,593.00 L675.56,593.50 L675.17,594.00 L674.78,594.50 L674.39,595.00 L674.00,595.50 L673.61,596.00 L673.22,596.50" fill="none" stroke="#141414" stroke-width="1.35"/>
<path d="M674.00,595.50 L673.61,596.00 L673.22,596.50 L672.83,597.00 L672.44,597.50 L672.04,598.00 L671.65,598.50 L671.26,599.00 L670.86,599.50 L670.47,600.00 L670.07,600.50 L669.68,601.00 L669.28,601.50 L668.88,602.00 L668.49,602.50" fill="none" stroke="#141414" stroke-width="2.67"/>
<path d="M669.28,601.50 L668.88,602.00 L668.49,602.50 L668.09,603.00 L667.70,603.50 L667.30,604.00 L666.91,604.50 L666.52,605.00 L666.12,605.50 L665.73,606.00 L665.34,606.50 L664.95,607.00 L664.56,607.50 L664.17,608.00 L663.78,608.50" fill="none" stroke="#141414" stroke-width="4.41"/>
<path d="M664.56,607.50 L664.17,608.00 L663.78,608.50 L663.39,609.00 L663.00,609.50 L662.62,610.00 L662.24,610.50 L661.85,611.00 L661.47,611.50 L661.09,612.00 L660.71,612.50 L660.34,613.00 L659.96,613.50 L659.59,614.00 L659.22,614.50" fill="none" stroke="#141414" stroke-width="5.25"/>
<path d="M659.96,613.50 L659.59,614.00 L659.22,614.50 L658.85,615.00 L658.48,615.50 L658.12,616.00 L657.76,616.50 L657.40,617.00 L657.04,617.50 L656.68,618.00 L656.33,618.50 L655.98,619.00 L655.63,619.50 L655.29,620.00 L654.95,620.50" fill="none" stroke="#141414" stroke-width="5.20"/>
<path d="M655.63,619.50 L655.29,620.00 L654.95,620.50 L654.61,621.00 L654.27,621.50 L653.94,622.00 L653.61,622.50 L653.28,623.00 L652.96,623.50 L652.63,624.00 L652.32,624.50 L652.00,625.00 L651.69,625.50 L651.39,626.00 L651.08,626.50" fill="none" stroke="#141414" stroke-width="5.15"/>
<path d="M651.69,625.50 L651.39,626.00 L651.08,626.50 L650.78,627.00 L650.49,627.50 L650.20,628.00 L649.91,628.50 L649.62,629.00 L649.34,629.50 L649.07,630.00 L648.79,630.50 L648.53,631.00 L648.26,631.50 L648.00,632.00 L647.75,632.50" fill="none" stroke="#141414" stroke-width="5.11"/>
<path d="M648.26,631.50 L648.00,632.00 L647.75,632.50 L647.50,633.00 L647.25,633.50 L647.01,634.00 L646.78,634.50 L646.54,635.00 L646.32,635.50 L646.09,636.00 L645.88,636.50 L645.66,637.00 L645.46,637.50 L645.25,638.00 L645.05,638.50" fill="none" stroke="#141414" stroke-width="5.06"/>
<path d="M645.46,637.50 L645.25,638.00 L645.05,638.50 L644.86,639.00 L644.67,639.50 L644.49,640.00 L644.31,640.50 L644.14,641.00 L643.98,641.50 L643.81,642.00 L643.66,642.50 L643.51,643.00 L643.36,643.50 L643.22,644.00 L643.09,644.50" fill="none" stroke="#141414" stroke-width="5.01"/>
<path d="M643.36,643.50 L643.22,644.00 L643.09,644.50 L642.96,645.00 L642.84,645.50 L642.72,646.00 L642.61,646.50 L642.50,647.00 L642.40,647.50 L642.31,648.00 L642.22,648.50 L642.13,649.00 L642.06,649.50 L641.99,650.00 L641.92,650.50" fill="none" stroke="#141414" stroke-width="4.96"/>
<path d="M642.06,649.50 L641.99,650.00 L641.92,650.50 L641.86,651.00 L641.81,651.50 L641.76,652.00 L641.72,652.50 L641.68,653.00 L641.65,653.50 L641.63,654.00 L641.61,654.50 L641.60,655.00 L641.59,655.50 L641.59,656.00 L641.60,656.50" fill="none" stroke="#141414" stroke-width="4.91"/>
<path d="M641.59,655.50 L641.59,656.00 L641.60,656.50 L641.61,657.00 L641.63,657.50 L641.65,658.00" fill="none" stroke="#141414" stroke-width="4.88"/>
<path d="M686.52,749.00 L686.49,749.50 L686.45,750.00 L686.41,750.50 L686.36,751.00 L686.30,751.50 L686.23,752.00 L686.15,752.50 L686.07,753.00 L685.98,753.50 L685.89,754.00 L685.78,754.50 L685.67,755.00 L685.56,755.50" fill="none" stroke="#141414" stroke-width="4.10"/>
<path d="M685.78,754.50 L685.67,755.00 L685.56,755.50 L685.43,756.00 L685.30,756.50 L685.16,757.00 L685.01,757.50 L684.86,758.00 L684.70,758.50 L684.53,759.00 L684.35,759.50 L684.17,760.00 L683.98,760.50 L683.79,761.00 L683.59,761.50" fill="none" stroke="#141414" stroke-width="4.05"/>
<path d="M683.98,760.50 L683.79,761.00 L683.59,761.50 L683.38,762.00 L683.16,762.50 L682.94,763.00 L682.72,763.50 L682.48,764.00 L682.24,764.50 L682.00,765.00 L681.74,765.50 L681.49,766.00 L681.22,766.50 L680.95,767.00 L680.68,767.50" fill="none" stroke="#141414" stroke-width="4.00"/>
<path d="M681.22,766.50 L680.95,767.00 L680.68,767.50 L680.39,768.00 L680.11,768.50 L679.82,769.00 L679.52,769.50 L679.22,770.00 L678.91,770.50 L678.60,771.00 L678.28,771.50 L677.96,772.00 L677.63,772.50 L677.30,773.00 L676.97,773.50" fill="none" stroke="#141414" stroke-width="3.95"/>
<path d="M677.63,772.50 L677.30,773.00 L676.97,773.50 L676.63,774.00 L676.29,774.50 L675.94,775.00 L675.59,775.50 L675.23,776.00 L674.88,776.50 L674.51,777.00 L674.15,777.50 L673.78,778.00 L673.41,778.50 L673.04,779.00 L672.66,779.50" fill="none" stroke="#141414" stroke-width="3.90"/>
<path d="M673.41,778.50 L673.04,779.00 L672.66,779.50 L672.28,780.00 L671.90,780.50 L671.52,781.00 L671.14,781.50 L670.75,782.00 L670.36,782.50 L669.97,783.00 L669.58,783.50 L669.19,784.00 L668.80,784.50 L668.40,785.00 L668.01,785.50" fill="none" stroke="#141414" stroke-width="3.85"/>
<path d="M668.80,784.50 L668.40,785.00 L668.01,785.50 L667.61,786.00 L667.22,786.50 L666.82,787.00 L666.43,787.50 L666.03,788.00 L665.64,788.50 L665.24,789.00 L664.85,789.50 L664.46,790.00 L664.07,790.50 L663.68,791.00 L663.29,791.50" fill="none" stroke="#141414" stroke-width="3.80"/>
<path d="M664.07,790.50 L663.68,791.00 L663.29,791.50 L662.90,792.00 L662.52,792.50 L662.13,793.00 L661.75,793.50 L661.37,794.00 L661.00,794.50 L660.62,795.00 L660.25,795.50 L659.88,796.00 L659.52,796.50 L659.16,797.00 L658.80,797.50" fill="none" stroke="#141414" stroke-width="3.75"/>
<path d="M659.52,796.50 L659.16,797.00 L658.80,797.50 L658.45,798.00 L658.09,798.50 L657.75,799.00 L657.41,799.50 L657.07,800.00 L656.74,800.50 L656.41,801.00 L656.10,801.50 L655.78,802.00 L655.47,802.50 L655.17,803.00 L654.87,803.50" fill="none" stroke="#141414" stroke-width="3.70"/>
<path d="M655.47,802.50 L655.17,803.00 L654.87,803.50 L654.57,804.00 L654.28,804.50 L654.00,805.00 L653.73,805.50 L653.45,806.00 L653.19,806.50 L652.93,807.00 L652.68,807.50 L652.44,808.00 L652.20,808.50 L651.97,809.00 L651.75,809.50" fill="none" stroke="#141414" stroke-width="3.66"/>
<path d="M652.20,808.50 L651.97,809.00 L651.75,809.50 L651.53,810.00 L651.32,810.50 L651.12,811.00 L650.92,811.50 L650.74,812.00 L650.56,812.50 L650.39,813.00 L650.22,813.50 L650.07,814.00 L649.92,814.50 L649.78,815.00 L649.65,815.50" fill="none" stroke="#141414" stroke-width="3.62"/>
<path d="M649.92,814.50 L649.78,815.00 L649.65,815.50 L649.53,816.00 L649.42,816.50 L649.31,817.00 L649.21,817.50 L649.13,818.00 L649.05,818.50 L648.98,819.00 L648.91,819.50 L648.86,820.00 L648.82,820.50 L648.78,821.00 L648.75,821.50" fill="none" stroke="#141414" stroke-width="3.58"/>
<path d="M648.82,820.50 L648.78,821.00 L648.75,821.50 L648.74,822.00 L648.73,822.50 L648.73,823.00 L648.74,823.50 L648.76,824.00 L648.78,824.50" fill="none" stroke="#141414" stroke-width="3.55"/>
<path d="M684.28,604.00 L683.94,604.50 L683.61,605.00 L683.27,605.50 L682.93,606.00 L682.58,606.50 L682.24,607.00 L681.89,607.50 L681.54,608.00 L681.18,608.50 L680.83,609.00 L680.47,609.50 L680.10,610.00 L679.74,610.50 L679.38,611.00 L679.01,611.50 L678.64,612.00 L678.27,612.50 L677.89,613.00 L677.52,613.50 L677.14,614.00 L676.76,614.50 L676.38,615.00 L676.00,615.50 L675.62,616.00 L675.23,616.50 L674.85,617.00 L674.46,617.50 L674.07,618.00 L673.68,618.50 L673.29,619.00 L672.90,619.50 L672.51,620.00 L672.12,620.50 L671.72,621.00 L671.33,621.50 L670.94,622.00 L670.54,622.50 L670.15,623.00 L669.75,623.50 L669.36,624.00 L668.96,624.50 L668.56,625.00 L668.17,625.50 L667.77,626.00 L667.38,626.50 L666.98,627.00 L666.59,627.50 L666.20,628.00 L665.80,628.50 L665.41,629.00 L665.02,629.50 L664.63,630.00 L664.24,630.50 L663.85,631.00 L663.46,631.50 L663.08,632.00 L662.69,632.50 L662.31,633.00 L661.92,633.50" fill="none" stroke="#141414" stroke-width="2.2"/>
<path d="M683.52,775.50 L683.34,776.00 L683.16,776.50 L682.97,777.00 L682.77,777.50 L682.56,778.00 L682.35,778.50 L682.13,779.00 L681.90,779.50 L681.67,780.00 L681.43,780.50 L681.19,781.00 L680.93,781.50 L680.68,782.00 L680.41,782.50 L680.14,783.00 L679.87,783.50 L679.58,784.00 L679.30,784.50 L679.00,785.00 L678.71,785.50 L678.40,786.00 L678.09,786.50 L677.78,787.00 L677.46,787.50 L677.13,788.00 L676.81,788.50 L676.47,789.00 L676.14,789.50 L675.79,790.00 L675.45,790.50 L675.10,791.00 L674.74,791.50 L674.39,792.00 L674.03,792.50 L673.66,793.00 L673.29,793.50 L672.92,794.00 L672.55,794.50 L672.17,795.00 L671.80,795.50 L671.41,796.00 L671.03,796.50 L670.65,797.00 L670.26,797.50 L669.87,798.00 L669.48,798.50 L669.09,799.00 L668.70,799.50 L668.30,800.00 L667.92,800.50 L667.53,801.00 L667.14,801.50 L666.75,802.00 L666.37,802.50 L665.98,803.00 L665.59,803.50 L665.20,804.00 L664.81,804.50 L664.43,805.00 L664.04,805.50 L663.66,806.00 L663.28,806.50 L662.89,807.00 L662.52,807.50 L662.14,808.00" fill="none" stroke="#141414" stroke-width="2.2"/>
<path d="M695.04,590.00 L694.90,590.50 L694.75,591.00 L694.60,591.50 L694.44,592.00 L694.27,592.50 L694.11,593.00 L693.93,593.50 L693.75,594.00 L693.57,594.50 L693.38,595.00 L693.19,595.50 L693.00,596.00 L692.79,596.50" fill="none" stroke="#141414" stroke-width="1.35"/>
<path d="M693.19,595.50 L693.00,596.00 L692.79,596.50 L692.59,597.00 L692.38,597.50 L692.16,598.00 L691.94,598.50 L691.72,599.00 L691.49,599.50 L691.26,600.00 L691.02,600.50 L690.78,601.00 L690.53,601.50 L690.28,602.00 L690.03,602.50" fill="none" stroke="#141414" stroke-width="2.67"/>
<path d="M690.53,601.50 L690.28,602.00 L690.03,602.50 L689.77,603.00 L689.51,603.50 L689.24,604.00 L688.97,604.50 L688.69,605.00 L688.41,605.50 L688.13,606.00 L687.85,606.50 L687.56,607.00 L687.26,607.50 L686.96,608.00 L686.66,608.50" fill="none" stroke="#141414" stroke-width="4.41"/>
<path d="M687.26,607.50 L686.96,608.00 L686.66,608.50 L686.36,609.00 L686.05,609.50 L685.74,610.00 L685.42,610.50 L685.11,611.00 L684.79,611.50 L684.46,612.00 L684.13,612.50 L683.80,613.00 L683.47,613.50 L683.13,614.00 L682.79,614.50" fill="none" stroke="#141414" stroke-width="5.25"/>
<path d="M683.47,613.50 L683.13,614.00 L682.79,614.50 L682.45,615.00 L682.10,615.50 L681.76,616.00 L681.41,616.50 L681.05,617.00 L680.70,617.50 L680.34,618.00 L679.98,618.50 L679.62,619.00 L679.25,619.50 L678.88,620.00 L678.52,620.50" fill="none" stroke="#141414" stroke-width="5.20"/>
<path d="M679.25,619.50 L678.88,620.00 L678.52,620.50 L678.14,621.00 L677.77,621.50 L677.40,622.00 L677.02,622.50 L676.64,623.00 L676.26,623.50 L675.88,624.00 L675.50,624.50 L675.11,625.00 L674.73,625.50 L674.34,626.00 L673.95,626.50" fill="none" stroke="#141414" stroke-width="5.15"/>
<path d="M674.73,625.50 L674.34,626.00 L673.95,626.50 L673.56,627.00 L673.17,627.50 L672.78,628.00 L672.39,628.50 L672.00,629.00 L671.61,629.50 L671.21,630.00 L670.82,630.50 L670.42,631.00 L670.03,631.50 L669.63,632.00 L669.24,632.50" fill="none" stroke="#141414" stroke-width="5.11"/>
<path d="M670.03,631.50 L669.63,632.00 L669.24,632.50 L668.84,633.00 L668.45,633.50 L668.05,634.00 L667.66,634.50 L667.26,635.00 L666.87,635.50 L666.47,636.00 L666.08,636.50 L665.69,637.00 L665.30,637.50 L664.90,638.00 L664.51,638.50" fill="none" stroke="#141414" stroke-width="5.06"/>
<path d="M665.30,637.50 L664.90,638.00 L664.51,638.50 L664.12,639.00 L663.73,639.50 L663.35,640.00 L662.96,640.50 L662.58,641.00 L662.19,641.50 L661.81,642.00 L661.43,642.50 L661.05,643.00 L660.67,643.50 L660.30,644.00 L659.92,644.50" fill="none" stroke="#141414" stroke-width="5.01"/>
<path d="M660.67,643.50 L660.30,644.00 L659.92,644.50 L659.55,645.00 L659.18,645.50 L658.81,646.00 L658.45,646.50 L658.09,647.00 L657.73,647.50 L657.37,648.00 L657.01,648.50 L656.66,649.00 L656.31,649.50 L655.96,650.00 L655.62,650.50" fill="none" stroke="#141414" stroke-width="4.96"/>
<path d="M656.31,649.50 L655.96,650.00 L655.62,650.50 L655.28,651.00 L654.94,651.50 L654.60,652.00 L654.27,652.50 L653.94,653.00 L653.62,653.50 L653.30,654.00 L652.98,654.50 L652.66,655.00 L652.35,655.50 L652.04,656.00 L651.74,656.50" fill="none" stroke="#141414" stroke-width="4.91"/>
<path d="M652.35,655.50 L652.04,656.00 L651.74,656.50 L651.44,657.00 L651.15,657.50 L650.85,658.00 L650.57,658.50 L650.28,659.00 L650.00,659.50 L649.73,660.00 L649.46,660.50 L649.19,661.00 L648.93,661.50 L648.68,662.00 L648.43,662.50" fill="none" stroke="#141414" stroke-width="4.87"/>
<path d="M648.93,661.50 L648.68,662.00 L648.43,662.50 L648.18,663.00 L647.94,663.50 L647.70,664.00 L647.47,664.50 L647.24,665.00 L647.02,665.50 L646.80,666.00 L646.59,666.50 L646.38,667.00 L646.18,667.50 L645.98,668.00 L645.79,668.50" fill="none" stroke="#141414" stroke-width="4.82"/>
<path d="M646.18,667.50 L645.98,668.00 L645.79,668.50 L645.61,669.00 L645.43,669.50 L645.26,670.00 L645.09,670.50 L644.92,671.00 L644.77,671.50 L644.62,672.00 L644.47,672.50 L644.33,673.00 L644.20,673.50 L644.07,674.00 L643.95,674.50" fill="none" stroke="#141414" stroke-width="4.77"/>
<path d="M644.20,673.50 L644.07,674.00 L643.95,674.50 L643.83,675.00 L643.72,675.50 L643.62,676.00 L643.52,676.50 L643.43,677.00 L643.34,677.50 L643.26,678.00 L643.19,678.50 L643.12,679.00 L643.06,679.50 L643.00,680.00 L642.96,680.50" fill="none" stroke="#141414" stroke-width="4.72"/>
<path d="M643.06,679.50 L643.00,680.00 L642.96,680.50 L642.91,681.00 L642.88,681.50 L642.85,682.00 L642.83,682.50 L642.81,683.00 L642.80,683.50 L642.79,684.00 L642.80,684.50 L642.81,685.00 L642.82,685.50 L642.84,686.00 L642.87,686.50" fill="none" stroke="#141414" stroke-width="4.67"/>
<path d="M642.82,685.50 L642.84,686.00 L642.87,686.50" fill="none" stroke="#141414" stroke-width="4.65"/>
<path d="M685.14,771.50 L685.11,772.00 L685.08,772.50 L685.04,773.00 L684.99,773.50 L684.94,774.00 L684.88,774.50 L684.81,775.00 L684.73,775.50 L684.64,776.00 L684.55,776.50 L684.44,777.00 L684.33,777.50 L684.22,778.00" fill="none" stroke="#141414" stroke-width="3.91"/>
<path d="M684.44,777.00 L684.33,777.50 L684.22,778.00 L684.09,778.50 L683.96,779.00 L683.82,779.50 L683.67,780.00 L683.51,780.50 L683.35,781.00 L683.18,781.50 L683.00,782.00 L682.82,782.50 L682.63,783.00 L682.43,783.50 L682.22,784.00" fill="none" stroke="#141414" stroke-width="3.86"/>
<path d="M682.63,783.00 L682.43,783.50 L682.22,784.00 L682.01,784.50 L681.79,785.00 L681.56,785.50 L681.33,786.00 L681.09,786.50 L680.84,787.00 L680.59,787.50 L680.33,788.00 L680.07,788.50 L679.80,789.00 L679.52,789.50 L679.24,790.00" fill="none" stroke="#141414" stroke-width="3.81"/>
<path d="M679.80,789.00 L679.52,789.50 L679.24,790.00 L678.95,790.50 L678.65,791.00 L678.35,791.50 L678.05,792.00 L677.74,792.50 L677.42,793.00 L677.10,793.50 L676.77,794.00 L676.44,794.50 L676.11,795.00 L675.77,795.50 L675.43,796.00" fill="none" stroke="#141414" stroke-width="3.76"/>
<path d="M676.11,795.00 L675.77,795.50 L675.43,796.00 L675.08,796.50 L674.73,797.00 L674.37,797.50 L674.01,798.00 L673.65,798.50 L673.28,799.00 L672.91,799.50 L672.54,800.00 L672.18,800.50 L671.81,801.00 L671.44,801.50 L671.06,802.00" fill="none" stroke="#141414" stroke-width="3.71"/>
<path d="M671.81,801.00 L671.44,801.50 L671.06,802.00 L670.69,802.50 L670.31,803.00 L669.93,803.50 L669.55,804.00 L669.16,804.50 L668.78,805.00 L668.39,805.50 L668.01,806.00 L667.62,806.50 L667.23,807.00 L666.84,807.50 L666.46,808.00" fill="none" stroke="#141414" stroke-width="3.67"/>
<path d="M667.23,807.00 L666.84,807.50 L666.46,808.00 L666.07,808.50 L665.68,809.00 L665.29,809.50 L664.90,810.00 L664.52,810.50 L664.13,811.00 L663.75,811.50 L663.37,812.00 L662.98,812.50 L662.60,813.00 L662.23,813.50 L661.85,814.00" fill="none" stroke="#141414" stroke-width="3.63"/>
<path d="M662.60,813.00 L662.23,813.50 L661.85,814.00 L661.48,814.50 L661.11,815.00 L660.74,815.50 L660.38,816.00 L660.01,816.50 L659.66,817.00 L659.30,817.50 L658.95,818.00 L658.60,818.50 L658.26,819.00 L657.92,819.50 L657.58,820.00" fill="none" stroke="#141414" stroke-width="3.59"/>
<path d="M658.26,819.00 L657.92,819.50 L657.58,820.00 L657.25,820.50 L656.93,821.00 L656.61,821.50 L656.29,822.00 L655.98,822.50 L655.68,823.00 L655.38,823.50 L655.09,824.00 L654.80,824.50 L654.52,825.00 L654.24,825.50 L653.96,826.00" fill="none" stroke="#141414" stroke-width="3.55"/>
<path d="M654.52,825.00 L654.24,825.50 L653.96,826.00 L653.70,826.50 L653.46,827.00 L653.23,827.50 L653.02,828.00 L652.83,828.50 L652.65,829.00 L652.49,829.50 L652.35,830.00 L652.23,830.50 L652.13,831.00 L652.05,831.50 L651.99,832.00" fill="none" stroke="#141414" stroke-width="3.53"/>
<path d="M652.13,831.00 L652.05,831.50 L651.99,832.00 L651.96,832.50 L651.95,833.00 L651.96,833.50 L651.99,834.00 L652.05,834.50 L652.13,835.00 L652.25,835.50 L652.38,836.00 L652.55,836.50 L652.75,837.00 L652.98,837.50 L653.24,838.00" fill="none" stroke="#141414" stroke-width="3.53"/>
<path d="M652.75,837.00 L652.98,837.50 L653.24,838.00 L653.53,838.50 L653.86,839.00 L654.23,839.50 L654.64,840.00 L655.09,840.50 L655.60,841.00 L656.16,841.50 L656.79,842.00 L657.50,842.50 L658.31,843.00 L659.25,843.50" fill="none" stroke="#141414" stroke-width="3.53"/>
<path d="M692.70,616.50 L692.53,617.00 L692.35,617.50 L692.16,618.00 L691.97,618.50 L691.78,619.00 L691.58,619.50 L691.37,620.00 L691.16,620.50 L690.95,621.00 L690.73,621.50 L690.51,622.00 L690.28,622.50 L690.05,623.00 L689.81,623.50 L689.57,624.00 L689.32,624.50 L689.07,625.00 L688.82,625.50 L688.56,626.00 L688.29,626.50 L688.02,627.00 L687.75,627.50 L687.48,628.00 L687.20,628.50 L686.91,629.00 L686.62,629.50 L686.33,630.00 L686.04,630.50 L685.74,631.00 L685.43,631.50 L685.13,632.00 L684.82,632.50 L684.50,633.00 L684.18,633.50 L683.86,634.00 L683.54,634.50 L683.21,635.00 L682.88,635.50 L682.55,636.00 L682.21,636.50 L681.87,637.00 L681.53,637.50 L681.18,638.00 L680.83,638.50 L680.48,639.00 L680.13,639.50 L679.77,640.00 L679.41,640.50 L679.05,641.00 L678.69,641.50 L678.32,642.00 L677.95,642.50 L677.58,643.00 L677.21,643.50 L676.83,644.00 L676.46,644.50 L676.08,645.00 L675.70,645.50 L675.32,646.00 L674.94,646.50 L674.55,647.00 L674.17,647.50 L673.78,648.00 L673.39,648.50 L673.00,649.00 L672.61,649.50 L672.22,650.00 L671.83,650.50 L671.44,651.00 L671.04,651.50 L670.65,652.00 L670.25,652.50 L669.86,653.00 L669.46,653.50 L669.07,654.00 L668.67,654.50 L668.28,655.00 L667.88,655.50 L667.49,656.00 L667.09,656.50 L666.70,657.00 L666.30,657.50 L665.91,658.00 L665.52,658.50 L665.13,659.00 L664.73,659.50 L664.34,660.00 L663.95,660.50 L663.57,661.00 L663.18,661.50 L662.79,662.00 L662.41,662.50 L662.03,663.00" fill="none" stroke="#141414" stroke-width="2.2"/>
<path d="M682.25,797.00 L682.07,797.50 L681.88,798.00 L681.68,798.50 L681.48,799.00 L681.27,799.50 L681.06,800.00 L680.84,800.50 L680.62,801.00 L680.40,801.50 L680.17,802.00 L679.93,802.50 L679.68,803.00 L679.43,803.50 L679.17,804.00 L678.90,804.50 L678.63,805.00 L678.35,805.50 L678.07,806.00 L677.78,806.50 L677.48,807.00 L677.18,807.50 L676.87,808.00 L676.56,808.50 L676.24,809.00 L675.92,809.50 L675.60,810.00 L675.27,810.50 L674.93,811.00 L674.59,811.50 L674.25,812.00 L673.90,812.50 L673.55,813.00 L673.19,813.50 L672.83,814.00 L672.47,814.50 L672.10,815.00 L671.74,815.50 L671.36,816.00 L670.99,816.50 L670.62,817.00 L670.24,817.50 L669.86,818.00 L669.48,818.50 L669.09,819.00 L668.71,819.50 L668.32,820.00 L667.94,820.50 L667.55,821.00 L667.16,821.50 L666.77,822.00 L666.38,822.50 L666.00,823.00 L665.61,823.50 L665.22,824.00 L664.83,824.50 L664.45,825.00 L664.06,825.50 L663.67,826.00 L663.29,826.50 L662.91,827.00 L662.54,827.50" fill="none" stroke="#141414" stroke-width="2.2"/>
<path d="M694.96,611.00 L694.93,611.50 L694.90,612.00 L694.87,612.50 L694.83,613.00 L694.78,613.50 L694.73,614.00 L694.68,614.50 L694.62,615.00 L694.55,615.50 L694.48,616.00 L694.40,616.50 L694.31,617.00 L694.23,617.50" fill="none" stroke="#141414" stroke-width="5.22"/>
<path d="M694.40,616.50 L694.31,617.00 L694.23,617.50 L694.13,618.00 L694.03,618.50 L693.93,619.00 L693.81,619.50 L693.70,620.00 L693.58,620.50 L693.45,621.00 L693.32,621.50 L693.18,622.00 L693.04,622.50 L692.89,623.00 L692.74,623.50" fill="none" stroke="#141414" stroke-width="5.18"/>
<path d="M693.04,622.50 L692.89,623.00 L692.74,623.50 L692.58,624.00 L692.42,624.50 L692.25,625.00 L692.07,625.50 L691.89,626.00 L691.71,626.50 L691.52,627.00 L691.33,627.50 L691.13,628.00 L690.92,628.50 L690.72,629.00 L690.50,629.50" fill="none" stroke="#141414" stroke-width="5.13"/>
<path d="M690.92,628.50 L690.72,629.00 L690.50,629.50 L690.28,630.00 L690.06,630.50 L689.83,631.00 L689.60,631.50 L689.36,632.00 L689.12,632.50 L688.88,633.00 L688.62,633.50 L688.37,634.00 L688.11,634.50 L687.85,635.00 L687.58,635.50" fill="none" stroke="#141414" stroke-width="5.08"/>
<path d="M688.11,634.50 L687.85,635.00 L687.58,635.50 L687.31,636.00 L687.03,636.50 L686.75,637.00 L686.46,637.50 L686.17,638.00 L685.88,638.50 L685.59,639.00 L685.28,639.50 L684.98,640.00 L684.67,640.50 L684.36,641.00 L684.05,641.50" fill="none" stroke="#141414" stroke-width="5.03"/>
<path d="M684.67,640.50 L684.36,641.00 L684.05,641.50 L683.73,642.00 L683.40,642.50 L683.08,643.00 L682.75,643.50 L682.42,644.00 L682.08,644.50 L681.74,645.00 L681.40,645.50 L681.06,646.00 L680.71,646.50 L680.36,647.00 L680.01,647.50" fill="none" stroke="#141414" stroke-width="4.99"/>
<path d="M680.71,646.50 L680.36,647.00 L680.01,647.50 L679.65,648.00 L679.30,648.50 L678.94,649.00 L678.57,649.50 L678.21,650.00 L677.84,650.50 L677.47,651.00 L677.10,651.50 L676.73,652.00 L676.35,652.50 L675.97,653.00 L675.59,653.50" fill="none" stroke="#141414" stroke-width="4.94"/>
<path d="M676.35,652.50 L675.97,653.00 L675.59,653.50 L675.21,654.00 L674.83,654.50 L674.45,655.00 L674.06,655.50 L673.67,656.00 L673.29,656.50 L672.90,657.00 L672.51,657.50 L672.12,658.00 L671.72,658.50 L671.33,659.00 L670.94,659.50" fill="none" stroke="#141414" stroke-width="4.89"/>
<path d="M671.72,658.50 L671.33,659.00 L670.94,659.50 L670.54,660.00 L670.15,660.50 L669.76,661.00 L669.36,661.50 L668.97,662.00 L668.57,662.50 L668.17,663.00 L667.78,663.50 L667.38,664.00 L666.99,664.50 L666.59,665.00 L666.20,665.50" fill="none" stroke="#141414" stroke-width="4.84"/>
<path d="M666.99,664.50 L666.59,665.00 L666.20,665.50 L665.81,666.00 L665.41,666.50 L665.02,667.00 L664.63,667.50 L664.24,668.00 L663.85,668.50 L663.46,669.00 L663.08,669.50 L662.69,670.00 L662.31,670.50 L661.92,671.00 L661.54,671.50" fill="none" stroke="#141414" stroke-width="4.79"/>
<path d="M662.31,670.50 L661.92,671.00 L661.54,671.50 L661.16,672.00 L660.79,672.50 L660.41,673.00 L660.04,673.50 L659.67,674.00 L659.30,674.50 L658.93,675.00 L658.56,675.50 L658.20,676.00 L657.84,676.50 L657.49,677.00 L657.13,677.50" fill="none" stroke="#141414" stroke-width="4.75"/>
<path d="M657.84,676.50 L657.49,677.00 L657.13,677.50 L656.78,678.00 L656.43,678.50 L656.09,679.00 L655.75,679.50 L655.41,680.00 L655.07,680.50 L654.74,681.00 L654.41,681.50 L654.09,682.00 L653.76,682.50 L653.45,683.00 L653.13,683.50" fill="none" stroke="#141414" stroke-width="4.70"/>
<path d="M653.76,682.50 L653.45,683.00 L653.13,683.50 L652.82,684.00 L652.52,684.50 L652.22,685.00 L651.92,685.50 L651.63,686.00 L651.34,686.50 L651.05,687.00 L650.77,687.50 L650.50,688.00 L650.23,688.50 L649.96,689.00 L649.70,689.50" fill="none" stroke="#141414" stroke-width="4.65"/>
<path d="M650.23,688.50 L649.96,689.00 L649.70,689.50 L649.44,690.00 L649.19,690.50 L648.95,691.00 L648.71,691.50 L648.47,692.00 L648.24,692.50 L648.02,693.00 L647.80,693.50 L647.58,694.00 L647.37,694.50 L647.17,695.00 L646.97,695.50" fill="none" stroke="#141414" stroke-width="4.60"/>
<path d="M647.37,694.50 L647.17,695.00 L646.97,695.50 L646.78,696.00 L646.60,696.50 L646.42,697.00 L646.24,697.50 L646.07,698.00 L645.91,698.50 L645.76,699.00 L645.61,699.50 L645.46,700.00 L645.32,700.50 L645.19,701.00 L645.07,701.50" fill="none" stroke="#141414" stroke-width="4.55"/>
<path d="M645.32,700.50 L645.19,701.00 L645.07,701.50 L644.95,702.00 L644.84,702.50 L644.73,703.00 L644.63,703.50 L644.54,704.00 L644.45,704.50 L644.37,705.00 L644.30,705.50 L644.23,706.00 L644.17,706.50 L644.12,707.00 L644.07,707.50" fill="none" stroke="#141414" stroke-width="4.50"/>
<path d="M644.17,706.50 L644.12,707.00 L644.07,707.50 L644.03,708.00 L644.00,708.50 L643.97,709.00 L643.95,709.50 L643.94,710.00 L643.93,710.50 L643.93,711.00 L643.94,711.50 L643.95,712.00 L643.97,712.50 L644.00,713.00" fill="none" stroke="#141414" stroke-width="4.45"/>
<path d="M683.80,793.50 L683.77,794.00 L683.73,794.50 L683.68,795.00 L683.62,795.50 L683.56,796.00 L683.49,796.50 L683.41,797.00 L683.32,797.50 L683.22,798.00 L683.12,798.50 L683.00,799.00 L682.88,799.50 L682.75,800.00" fill="none" stroke="#141414" stroke-width="3.72"/>
<path d="M683.00,799.00 L682.88,799.50 L682.75,800.00 L682.62,800.50 L682.49,801.00 L682.35,801.50 L682.20,802.00 L682.04,802.50 L681.88,803.00 L681.70,803.50 L681.52,804.00 L681.34,804.50 L681.14,805.00 L680.94,805.50 L680.73,806.00" fill="none" stroke="#141414" stroke-width="3.68"/>
<path d="M681.14,805.00 L680.94,805.50 L680.73,806.00 L680.51,806.50 L680.29,807.00 L680.05,807.50 L679.82,808.00 L679.57,808.50 L679.32,809.00 L679.06,809.50 L678.79,810.00 L678.52,810.50 L678.25,811.00 L677.96,811.50 L677.67,812.00" fill="none" stroke="#141414" stroke-width="3.64"/>
<path d="M678.25,811.00 L677.96,811.50 L677.67,812.00 L677.38,812.50 L677.08,813.00 L676.77,813.50 L676.46,814.00 L676.14,814.50 L675.82,815.00 L675.50,815.50 L675.16,816.00 L674.83,816.50 L674.49,817.00 L674.14,817.50 L673.80,818.00" fill="none" stroke="#141414" stroke-width="3.60"/>
<path d="M674.49,817.00 L674.14,817.50 L673.80,818.00 L673.44,818.50 L673.09,819.00 L672.73,819.50 L672.37,820.00 L672.00,820.50 L671.63,821.00 L671.26,821.50 L670.89,822.00 L670.51,822.50 L670.13,823.00 L669.75,823.50 L669.37,824.00" fill="none" stroke="#141414" stroke-width="3.56"/>
<path d="M670.13,823.00 L669.75,823.50 L669.37,824.00 L668.99,824.50 L668.60,825.00 L668.22,825.50 L667.83,826.00 L667.44,826.50 L667.05,827.00 L666.66,827.50 L666.27,828.00 L665.89,828.50 L665.50,829.00 L665.12,829.50 L664.75,830.00" fill="none" stroke="#141414" stroke-width="3.53"/>
<path d="M665.50,829.00 L665.12,829.50 L664.75,830.00 L664.38,830.50 L664.02,831.00 L663.67,831.50 L663.32,832.00 L662.99,832.50 L662.67,833.00 L662.36,833.50 L662.07,834.00 L661.79,834.50 L661.52,835.00 L661.28,835.50 L661.05,836.00" fill="none" stroke="#141414" stroke-width="3.53"/>
<path d="M661.52,835.00 L661.28,835.50 L661.05,836.00 L660.84,836.50 L660.66,837.00 L660.50,837.50 L660.36,838.00 L660.26,838.50 L660.18,839.00 L660.14,839.50 L660.13,840.00 L660.16,840.50 L660.24,841.00 L660.37,841.50 L660.56,842.00" fill="none" stroke="#141414" stroke-width="3.53"/>
<path d="M660.24,841.00 L660.37,841.50 L660.56,842.00 L660.82,842.50 L661.16,843.00 L661.62,843.50 L662.25,844.00 L663.16,844.50 L665.65,845.00 L665.65,845.50 L665.65,846.00" fill="none" stroke="#141414" stroke-width="3.53"/>
<path d="M690.97,647.00 L690.80,647.50 L690.62,648.00 L690.43,648.50 L690.24,649.00 L690.05,649.50 L689.85,650.00 L689.64,650.50 L689.43,651.00 L689.22,651.50 L688.99,652.00 L688.77,652.50 L688.54,653.00 L688.30,653.50 L688.06,654.00 L687.82,654.50 L687.57,655.00 L687.31,655.50 L687.06,656.00 L686.79,656.50 L686.52,657.00 L686.25,657.50 L685.98,658.00 L685.69,658.50 L685.41,659.00 L685.12,659.50 L684.83,660.00 L684.53,660.50 L684.23,661.00 L683.92,661.50 L683.61,662.00 L683.30,662.50 L682.98,663.00 L682.66,663.50 L682.34,664.00 L682.01,664.50 L681.68,665.00 L681.35,665.50 L681.01,666.00 L680.67,666.50 L680.32,667.00 L679.98,667.50 L679.63,668.00 L679.28,668.50 L678.92,669.00 L678.56,669.50 L678.20,670.00 L677.84,670.50 L677.47,671.00 L677.10,671.50 L676.73,672.00 L676.36,672.50 L675.99,673.00 L675.61,673.50 L675.23,674.00 L674.85,674.50 L674.47,675.00 L674.09,675.50 L673.70,676.00 L673.32,676.50 L672.93,677.00 L672.54,677.50 L672.15,678.00 L671.76,678.50 L671.37,679.00 L670.98,679.50 L670.58,680.00 L670.19,680.50 L669.80,681.00 L669.40,681.50 L669.01,682.00 L668.61,682.50 L668.22,683.00 L667.82,683.50 L667.42,684.00 L667.03,684.50 L666.63,685.00 L666.24,685.50 L665.85,686.00 L665.45,686.50 L665.06,687.00 L664.67,687.50 L664.28,688.00 L663.89,688.50 L663.50,689.00 L663.11,689.50 L662.73,690.00 L662.34,690.50 L661.96,691.00" fill="none" stroke="#141414" stroke-width="2.2"/>
<path d="M681.58,817.00 L681.41,817.50 L681.24,818.00 L681.06,818.50 L680.87,819.00 L680.68,819.50 L680.47,820.00 L680.26,820.50 L680.04,821.00 L679.82,821.50 L679.58,822.00 L679.34,822.50 L679.10,823.00 L678.84,823.50 L678.58,824.00 L678.31,824.50 L678.04,825.00 L677.77,825.50 L677.48,826.00 L677.19,826.50 L676.88,827.00 L676.55,827.50 L676.22,828.00 L675.88,828.50 L675.52,829.00 L675.16,829.50 L674.79,830.00 L674.41,830.50 L674.03,831.00 L673.64,831.50 L673.25,832.00 L672.85,832.50 L672.45,833.00 L672.05,833.50 L671.64,834.00 L671.24,834.50 L670.84,835.00 L670.43,835.50 L670.04,836.00 L669.64,836.50 L669.25,837.00 L668.87,837.50 L668.50,838.00 L668.14,838.50 L667.78,839.00 L667.44,839.50 L667.11,840.00 L666.80,840.50 L666.51,841.00 L666.24,841.50 L666.00,842.00 L665.78,842.50 L665.60,843.00 L665.46,843.50 L665.37,844.00 L665.36,844.50 L665.65,845.00 L665.65,845.50 L665.65,846.00" fill="none" stroke="#141414" stroke-width="2.2"/>
<path d="M693.06,642.00 L693.04,642.50 L693.01,643.00 L692.97,643.50 L692.93,644.00 L692.88,644.50 L692.83,645.00 L692.77,645.50 L692.70,646.00 L692.63,646.50 L692.55,647.00 L692.47,647.50 L692.38,648.00 L692.29,648.50" fill="none" stroke="#141414" stroke-width="4.97"/>
<path d="M692.47,647.50 L692.38,648.00 L692.29,648.50 L692.19,649.00 L692.08,649.50 L691.97,650.00 L691.85,650.50 L691.73,651.00 L691.60,651.50 L691.47,652.00 L691.33,652.50 L691.18,653.00 L691.03,653.50 L690.87,654.00 L690.71,654.50" fill="none" stroke="#141414" stroke-width="4.93"/>
<path d="M691.03,653.50 L690.87,654.00 L690.71,654.50 L690.55,655.00 L690.37,655.50 L690.19,656.00 L690.01,656.50 L689.82,657.00 L689.63,657.50 L689.43,658.00 L689.22,658.50 L689.01,659.00 L688.80,659.50 L688.58,660.00 L688.35,660.50" fill="none" stroke="#141414" stroke-width="4.88"/>
<path d="M688.80,659.50 L688.58,660.00 L688.35,660.50 L688.12,661.00 L687.89,661.50 L687.65,662.00 L687.40,662.50 L687.15,663.00 L686.90,663.50 L686.64,664.00 L686.38,664.50 L686.11,665.00 L685.83,665.50 L685.56,666.00 L685.28,666.50" fill="none" stroke="#141414" stroke-width="4.83"/>
<path d="M685.83,665.50 L685.56,666.00 L685.28,666.50 L684.99,667.00 L684.70,667.50 L684.41,668.00 L684.11,668.50 L683.80,669.00 L683.50,669.50 L683.19,670.00 L682.87,670.50 L682.56,671.00 L682.24,671.50 L681.91,672.00 L681.58,672.50" fill="none" stroke="#141414" stroke-width="4.79"/>
<path d="M682.24,671.50 L681.91,672.00 L681.58,672.50 L681.25,673.00 L680.91,673.50 L680.58,674.00 L680.23,674.50 L679.89,675.00 L679.54,675.50 L679.19,676.00 L678.84,676.50 L678.48,677.00 L678.12,677.50 L677.76,678.00 L677.39,678.50" fill="none" stroke="#141414" stroke-width="4.74"/>
<path d="M678.12,677.50 L677.76,678.00 L677.39,678.50 L677.03,679.00 L676.66,679.50 L676.29,680.00 L675.91,680.50 L675.54,681.00 L675.16,681.50 L674.78,682.00 L674.40,682.50 L674.02,683.00 L673.63,683.50 L673.25,684.00 L672.86,684.50" fill="none" stroke="#141414" stroke-width="4.69"/>
<path d="M673.63,683.50 L673.25,684.00 L672.86,684.50 L672.47,685.00 L672.08,685.50 L671.69,686.00 L671.30,686.50 L670.91,687.00 L670.51,687.50 L670.12,688.00 L669.73,688.50 L669.33,689.00 L668.94,689.50 L668.54,690.00 L668.15,690.50" fill="none" stroke="#141414" stroke-width="4.64"/>
<path d="M668.94,689.50 L668.54,690.00 L668.15,690.50 L667.75,691.00 L667.36,691.50 L666.96,692.00 L666.57,692.50 L666.17,693.00 L665.78,693.50 L665.38,694.00 L664.99,694.50 L664.60,695.00 L664.21,695.50 L663.82,696.00 L663.43,696.50" fill="none" stroke="#141414" stroke-width="4.59"/>
<path d="M664.21,695.50 L663.82,696.00 L663.43,696.50 L663.05,697.00 L662.66,697.50 L662.28,698.00 L661.89,698.50 L661.51,699.00 L661.13,699.50 L660.76,700.00 L660.38,700.50 L660.01,701.00 L659.64,701.50 L659.27,702.00 L658.91,702.50" fill="none" stroke="#141414" stroke-width="4.54"/>
<path d="M659.64,701.50 L659.27,702.00 L658.91,702.50 L658.54,703.00 L658.18,703.50 L657.82,704.00 L657.47,704.50 L657.12,705.00 L656.77,705.50 L656.43,706.00 L656.08,706.50 L655.75,707.00 L655.41,707.50 L655.08,708.00 L654.75,708.50" fill="none" stroke="#141414" stroke-width="4.49"/>
<path d="M655.41,707.50 L655.08,708.00 L654.75,708.50 L654.43,709.00 L654.11,709.50 L653.79,710.00 L653.48,710.50 L653.18,711.00 L652.87,711.50 L652.58,712.00 L652.28,712.50 L651.99,713.00 L651.71,713.50 L651.43,714.00 L651.15,714.50" fill="none" stroke="#141414" stroke-width="4.44"/>
<path d="M651.71,713.50 L651.43,714.00 L651.15,714.50 L650.88,715.00 L650.62,715.50 L650.36,716.00 L650.11,716.50 L649.86,717.00 L649.61,717.50 L649.37,718.00 L649.14,718.50 L648.92,719.00 L648.69,719.50 L648.48,720.00 L648.27,720.50" fill="none" stroke="#141414" stroke-width="4.40"/>
<path d="M648.69,719.50 L648.48,720.00 L648.27,720.50 L648.07,721.00 L647.87,721.50 L647.68,722.00 L647.49,722.50 L647.31,723.00 L647.14,723.50 L646.97,724.00 L646.81,724.50 L646.66,725.00 L646.51,725.50 L646.37,726.00 L646.24,726.50" fill="none" stroke="#141414" stroke-width="4.35"/>
<path d="M646.51,725.50 L646.37,726.00 L646.24,726.50 L646.11,727.00 L645.99,727.50 L645.87,728.00 L645.77,728.50 L645.67,729.00 L645.57,729.50 L645.49,730.00 L645.41,730.50 L645.33,731.00 L645.27,731.50 L645.21,732.00 L645.16,732.50" fill="none" stroke="#141414" stroke-width="4.30"/>
<path d="M645.27,731.50 L645.21,732.00 L645.16,732.50 L645.11,733.00 L645.08,733.50 L645.05,734.00 L645.02,734.50 L645.01,735.00 L645.00,735.50 L645.00,736.00 L645.00,736.50 L645.02,737.00 L645.04,737.50 L645.06,738.00" fill="none" stroke="#141414" stroke-width="4.25"/>
<path d="M682.91,813.50 L682.90,814.00 L682.88,814.50 L682.85,815.00 L682.81,815.50 L682.76,816.00 L682.71,816.50 L682.64,817.00 L682.57,817.50 L682.49,818.00 L682.40,818.50 L682.30,819.00 L682.19,819.50 L682.08,820.00" fill="none" stroke="#141414" stroke-width="3.58"/>
<path d="M682.30,819.00 L682.19,819.50 L682.08,820.00 L681.95,820.50 L681.82,821.00 L681.68,821.50 L681.53,822.00 L681.37,822.50 L681.20,823.00 L681.03,823.50 L680.85,824.00 L680.66,824.50 L680.46,825.00 L680.27,825.50 L680.06,826.00" fill="none" stroke="#141414" stroke-width="3.55"/>
<path d="M680.46,825.00 L680.27,825.50 L680.06,826.00 L679.83,826.50 L679.58,827.00 L679.33,827.50 L679.05,828.00 L678.77,828.50 L678.46,829.00 L678.15,829.50 L677.82,830.00 L677.49,830.50 L677.14,831.00 L676.78,831.50 L676.41,832.00" fill="none" stroke="#141414" stroke-width="3.53"/>
<path d="M677.14,831.00 L676.78,831.50 L676.41,832.00 L676.03,832.50 L675.64,833.00 L675.24,833.50 L674.84,834.00 L674.43,834.50 L674.02,835.00 L673.60,835.50 L673.18,836.00 L672.75,836.50 L672.33,837.00 L671.90,837.50 L671.47,838.00" fill="none" stroke="#141414" stroke-width="3.53"/>
<path d="M672.33,837.00 L671.90,837.50 L671.47,838.00 L671.04,838.50 L670.62,839.00 L670.20,839.50 L669.78,840.00 L669.36,840.50 L668.96,841.00 L668.55,841.50 L668.16,842.00 L667.78,842.50 L667.40,843.00 L667.03,843.50 L666.67,844.00" fill="none" stroke="#141414" stroke-width="3.53"/>
<path d="M667.40,843.00 L667.03,843.50 L666.67,844.00 L666.29,844.50 L665.65,845.00 L665.65,845.50 L665.65,846.00" fill="none" stroke="#141414" stroke-width="3.53"/>
<path d="M689.25,676.00 L689.07,676.50 L688.89,677.00 L688.70,677.50 L688.51,678.00 L688.31,678.50 L688.11,679.00 L687.90,679.50 L687.68,680.00 L687.46,680.50 L687.24,681.00 L687.01,681.50 L686.77,682.00 L686.53,682.50 L686.28,683.00 L686.03,683.50 L685.78,684.00 L685.52,684.50 L685.25,685.00 L684.98,685.50 L684.71,686.00 L684.43,686.50 L684.14,687.00 L683.85,687.50 L683.56,688.00 L683.26,688.50 L682.96,689.00 L682.66,689.50 L682.35,690.00 L682.03,690.50 L681.72,691.00 L681.40,691.50 L681.07,692.00 L680.74,692.50 L680.41,693.00 L680.07,693.50 L679.73,694.00 L679.39,694.50 L679.05,695.00 L678.70,695.50 L678.34,696.00 L677.99,696.50 L677.63,697.00 L677.27,697.50 L676.91,698.00 L676.54,698.50 L676.17,699.00 L675.80,699.50 L675.43,700.00 L675.06,700.50 L674.68,701.00 L674.30,701.50 L673.92,702.00 L673.54,702.50 L673.15,703.00 L672.77,703.50 L672.38,704.00 L671.99,704.50 L671.60,705.00 L671.21,705.50 L670.82,706.00 L670.43,706.50 L670.03,707.00 L669.64,707.50 L669.24,708.00 L668.85,708.50 L668.45,709.00 L668.06,709.50 L667.66,710.00 L667.27,710.50 L666.87,711.00 L666.48,711.50 L666.08,712.00 L665.69,712.50 L665.30,713.00 L664.90,713.50 L664.51,714.00 L664.12,714.50 L663.73,715.00 L663.34,715.50 L662.96,716.00 L662.57,716.50 L662.19,717.00" fill="none" stroke="#141414" stroke-width="2.2"/>
<path d="M678.46,836.50 L678.05,837.00 L677.63,837.50 L677.19,838.00 L676.72,838.50 L676.24,839.00 L675.73,839.50 L675.20,840.00 L674.65,840.50 L674.06,841.00 L673.45,841.50 L672.80,842.00 L672.11,842.50 L671.36,843.00 L670.53,843.50 L669.58,844.00 L668.39,844.50 L665.65,845.00 L665.65,845.50 L665.65,846.00" fill="none" stroke="#141414" stroke-width="2.2"/>
<path d="M691.28,671.00 L691.26,671.50 L691.23,672.00 L691.20,672.50 L691.15,673.00 L691.11,673.50 L691.05,674.00 L690.99,674.50 L690.92,675.00 L690.85,675.50 L690.77,676.00 L690.69,676.50 L690.60,677.00 L690.50,677.50" fill="none" stroke="#141414" stroke-width="4.74"/>
<path d="M690.69,676.50 L690.60,677.00 L690.50,677.50 L690.40,678.00 L690.29,678.50 L690.17,679.00 L690.05,679.50 L689.92,680.00 L689.79,680.50 L689.65,681.00 L689.50,681.50 L689.35,682.00 L689.19,682.50 L689.03,683.00 L688.86,683.50" fill="none" stroke="#141414" stroke-width="4.70"/>
<path d="M689.19,682.50 L689.03,683.00 L688.86,683.50 L688.69,684.00 L688.51,684.50 L688.32,685.00 L688.13,685.50 L687.93,686.00 L687.73,686.50 L687.52,687.00 L687.30,687.50 L687.09,688.00 L686.86,688.50 L686.63,689.00 L686.40,689.50" fill="none" stroke="#141414" stroke-width="4.65"/>
<path d="M686.86,688.50 L686.63,689.00 L686.40,689.50 L686.15,690.00 L685.91,690.50 L685.66,691.00 L685.40,691.50 L685.14,692.00 L684.88,692.50 L684.61,693.00 L684.33,693.50 L684.05,694.00 L683.77,694.50 L683.48,695.00 L683.19,695.50" fill="none" stroke="#141414" stroke-width="4.60"/>
<path d="M683.77,694.50 L683.48,695.00 L683.19,695.50 L682.89,696.00 L682.59,696.50 L682.28,697.00 L681.97,697.50 L681.66,698.00 L681.34,698.50 L681.02,699.00 L680.69,699.50 L680.36,700.00 L680.03,700.50 L679.69,701.00 L679.35,701.50" fill="none" stroke="#141414" stroke-width="4.55"/>
<path d="M680.03,700.50 L679.69,701.00 L679.35,701.50 L679.01,702.00 L678.66,702.50 L678.31,703.00 L677.96,703.50 L677.60,704.00 L677.24,704.50 L676.88,705.00 L676.52,705.50 L676.15,706.00 L675.78,706.50 L675.41,707.00 L675.03,707.50" fill="none" stroke="#141414" stroke-width="4.50"/>
<path d="M675.78,706.50 L675.41,707.00 L675.03,707.50 L674.66,708.00 L674.28,708.50 L673.90,709.00 L673.52,709.50 L673.13,710.00 L672.75,710.50 L672.36,711.00 L671.97,711.50 L671.59,712.00 L671.19,712.50 L670.80,713.00 L670.41,713.50" fill="none" stroke="#141414" stroke-width="4.45"/>
<path d="M671.19,712.50 L670.80,713.00 L670.41,713.50 L670.02,714.00 L669.62,714.50 L669.23,715.00 L668.83,715.50 L668.44,716.00 L668.04,716.50 L667.65,717.00 L667.25,717.50 L666.86,718.00 L666.46,718.50 L666.07,719.00 L665.68,719.50" fill="none" stroke="#141414" stroke-width="4.40"/>
<path d="M666.46,718.50 L666.07,719.00 L665.68,719.50 L665.28,720.00 L664.89,720.50 L664.50,721.00 L664.11,721.50 L663.72,722.00 L663.33,722.50 L662.94,723.00 L662.56,723.50 L662.17,724.00 L661.79,724.50 L661.41,725.00 L661.03,725.50" fill="none" stroke="#141414" stroke-width="4.35"/>
<path d="M661.79,724.50 L661.41,725.00 L661.03,725.50 L660.66,726.00 L660.28,726.50 L659.91,727.00 L659.54,727.50 L659.18,728.00 L658.82,728.50 L658.45,729.00 L658.10,729.50 L657.74,730.00 L657.39,730.50 L657.04,731.00 L656.70,731.50" fill="none" stroke="#141414" stroke-width="4.30"/>
<path d="M657.39,730.50 L657.04,731.00 L656.70,731.50 L656.36,732.00 L656.02,732.50 L655.69,733.00 L655.36,733.50 L655.03,734.00 L654.71,734.50 L654.39,735.00 L654.08,735.50 L653.77,736.00 L653.47,736.50 L653.17,737.00 L652.88,737.50" fill="none" stroke="#141414" stroke-width="4.25"/>
<path d="M653.47,736.50 L653.17,737.00 L652.88,737.50 L652.59,738.00 L652.30,738.50 L652.03,739.00 L651.75,739.50 L651.48,740.00 L651.22,740.50 L650.96,741.00 L650.71,741.50 L650.46,742.00 L650.22,742.50 L649.99,743.00 L649.76,743.50" fill="none" stroke="#141414" stroke-width="4.20"/>
<path d="M650.22,742.50 L649.99,743.00 L649.76,743.50 L649.54,744.00 L649.32,744.50 L649.11,745.00 L648.91,745.50 L648.71,746.00 L648.52,746.50 L648.33,747.00 L648.15,747.50 L647.98,748.00 L647.82,748.50 L647.66,749.00 L647.51,749.50" fill="none" stroke="#141414" stroke-width="4.15"/>
<path d="M647.82,748.50 L647.66,749.00 L647.51,749.50 L647.36,750.00 L647.23,750.50 L647.10,751.00 L646.97,751.50 L646.86,752.00 L646.75,752.50 L646.65,753.00 L646.55,753.50 L646.47,754.00 L646.39,754.50 L646.31,755.00 L646.25,755.50" fill="none" stroke="#141414" stroke-width="4.10"/>
<path d="M646.39,754.50 L646.31,755.00 L646.25,755.50 L646.19,756.00 L646.14,756.50 L646.10,757.00 L646.07,757.50 L646.04,758.00 L646.02,758.50 L646.01,759.00 L646.00,759.50 L646.01,760.00 L646.02,760.50 L646.04,761.00 L646.06,761.50" fill="none" stroke="#141414" stroke-width="4.05"/>
<path d="M646.02,760.50 L646.04,761.00 L646.06,761.50" fill="none" stroke="#141414" stroke-width="4.03"/>
<path d="M680.90,833.50 L680.70,834.00 L680.47,834.50 L680.21,835.00 L679.94,835.50 L679.64,836.00 L679.32,836.50 L678.97,837.00 L678.60,837.50 L678.20,838.00 L677.77,838.50 L677.32,839.00 L676.83,839.50 L676.32,840.00" fill="none" stroke="#141414" stroke-width="3.53"/>
<path d="M677.32,839.00 L676.83,839.50 L676.32,840.00 L675.77,840.50 L675.18,841.00 L674.55,841.50 L673.87,842.00 L673.13,842.50 L672.32,843.00 L671.40,843.50 L670.32,844.00 L668.93,844.50 L665.65,845.00 L665.65,845.50 L665.65,846.00" fill="none" stroke="#141414" stroke-width="3.53"/>
<path d="M665.65,845.00 L665.65,845.50 L665.65,846.00" fill="none" stroke="#141414" stroke-width="3.53"/>
<path d="M687.74,703.00 L687.56,703.50 L687.38,704.00 L687.19,704.50 L687.00,705.00 L686.80,705.50 L686.60,706.00 L686.39,706.50 L686.17,707.00 L685.95,707.50 L685.72,708.00 L685.49,708.50 L685.25,709.00 L685.01,709.50 L684.76,710.00 L684.51,710.50 L684.25,711.00 L683.98,711.50 L683.72,712.00 L683.44,712.50 L683.16,713.00 L682.88,713.50 L682.59,714.00 L682.30,714.50 L682.00,715.00 L681.70,715.50 L681.39,716.00 L681.08,716.50 L680.76,717.00 L680.44,717.50 L680.12,718.00 L679.79,718.50 L679.46,719.00 L679.13,719.50 L678.79,720.00 L678.45,720.50 L678.10,721.00 L677.75,721.50 L677.40,722.00 L677.05,722.50 L676.69,723.00 L676.33,723.50 L675.96,724.00 L675.60,724.50 L675.23,725.00 L674.86,725.50 L674.48,726.00 L674.11,726.50 L673.73,727.00 L673.35,727.50 L672.96,728.00 L672.58,728.50 L672.19,729.00 L671.81,729.50 L671.42,730.00 L671.03,730.50 L670.64,731.00 L670.25,731.50 L669.85,732.00 L669.46,732.50 L669.07,733.00 L668.67,733.50 L668.28,734.00 L667.88,734.50 L667.49,735.00 L667.09,735.50 L666.70,736.00 L666.30,736.50 L665.91,737.00 L665.51,737.50 L665.12,738.00 L664.73,738.50 L664.33,739.00 L663.94,739.50 L663.56,740.00 L663.17,740.50 L662.78,741.00 L662.40,741.50 L662.01,742.00" fill="none" stroke="#141414" stroke-width="2.2"/>
<path d="M639.11,590.00 L639.07,590.50 L639.04,591.00 L639.01,591.50 L638.99,592.00 L638.97,592.50 L638.96,593.00 L638.96,593.50 L638.95,594.00 L638.96,594.50 L638.97,595.00 L638.99,595.50 L639.01,596.00 L639.03,596.50" fill="none" stroke="#141414" stroke-width="1.35"/>
<path d="M638.99,595.50 L639.01,596.00 L639.03,596.50" fill="none" stroke="#141414" stroke-width="1.79"/>
<path d="M689.60,698.50 L689.58,699.00 L689.55,699.50 L689.51,700.00 L689.47,700.50 L689.42,701.00 L689.36,701.50 L689.29,702.00 L689.22,702.50 L689.15,703.00 L689.06,703.50 L688.97,704.00 L688.88,704.50 L688.77,705.00" fill="none" stroke="#141414" stroke-width="4.52"/>
<path d="M688.97,704.00 L688.88,704.50 L688.77,705.00 L688.66,705.50 L688.55,706.00 L688.43,706.50 L688.30,707.00 L688.16,707.50 L688.02,708.00 L687.87,708.50 L687.72,709.00 L687.56,709.50 L687.39,710.00 L687.22,710.50 L687.04,711.00" fill="none" stroke="#141414" stroke-width="4.47"/>
<path d="M687.39,710.00 L687.22,710.50 L687.04,711.00 L686.86,711.50 L686.67,712.00 L686.47,712.50 L686.27,713.00 L686.06,713.50 L685.84,714.00 L685.62,714.50 L685.40,715.00 L685.17,715.50 L684.93,716.00 L684.69,716.50 L684.44,717.00" fill="none" stroke="#141414" stroke-width="4.42"/>
<path d="M684.93,716.00 L684.69,716.50 L684.44,717.00 L684.19,717.50 L683.93,718.00 L683.67,718.50 L683.40,719.00 L683.13,719.50 L682.85,720.00 L682.56,720.50 L682.27,721.00 L681.98,721.50 L681.68,722.00 L681.38,722.50 L681.08,723.00" fill="none" stroke="#141414" stroke-width="4.37"/>
<path d="M681.68,722.00 L681.38,722.50 L681.08,723.00 L680.76,723.50 L680.45,724.00 L680.13,724.50 L679.81,725.00 L679.48,725.50 L679.15,726.00 L678.81,726.50 L678.47,727.00 L678.13,727.50 L677.78,728.00 L677.43,728.50 L677.08,729.00" fill="none" stroke="#141414" stroke-width="4.33"/>
<path d="M677.78,728.00 L677.43,728.50 L677.08,729.00 L676.73,729.50 L676.37,730.00 L676.01,730.50 L675.64,731.00 L675.27,731.50 L674.90,732.00 L674.53,732.50 L674.16,733.00 L673.78,733.50 L673.40,734.00 L673.02,734.50 L672.64,735.00" fill="none" stroke="#141414" stroke-width="4.28"/>
<path d="M673.40,734.00 L673.02,734.50 L672.64,735.00 L672.25,735.50 L671.87,736.00 L671.48,736.50 L671.09,737.00 L670.70,737.50 L670.31,738.00 L669.91,738.50 L669.52,739.00 L669.13,739.50 L668.73,740.00 L668.34,740.50 L667.94,741.00" fill="none" stroke="#141414" stroke-width="4.23"/>
<path d="M668.73,740.00 L668.34,740.50 L667.94,741.00 L667.55,741.50 L667.15,742.00 L666.76,742.50 L666.36,743.00 L665.97,743.50 L665.57,744.00 L665.18,744.50 L664.79,745.00 L664.40,745.50 L664.00,746.00 L663.62,746.50 L663.23,747.00" fill="none" stroke="#141414" stroke-width="4.18"/>
<path d="M664.00,746.00 L663.62,746.50 L663.23,747.00 L662.84,747.50 L662.46,748.00 L662.07,748.50 L661.69,749.00 L661.31,749.50 L660.94,750.00 L660.56,750.50 L660.19,751.00 L659.82,751.50 L659.45,752.00 L659.09,752.50 L658.73,753.00" fill="none" stroke="#141414" stroke-width="4.13"/>
<path d="M659.45,752.00 L659.09,752.50 L658.73,753.00 L658.37,753.50 L658.01,754.00 L657.66,754.50 L657.32,755.00 L656.97,755.50 L656.63,756.00 L656.30,756.50 L655.96,757.00 L655.64,757.50 L655.31,758.00 L654.99,758.50 L654.68,759.00" fill="none" stroke="#141414" stroke-width="4.08"/>
<path d="M655.31,758.00 L654.99,758.50 L654.68,759.00 L654.37,759.50 L654.06,760.00 L653.76,760.50 L653.47,761.00 L653.18,761.50 L652.89,762.00 L652.62,762.50 L652.34,763.00 L652.07,763.50 L651.81,764.00 L651.56,764.50 L651.31,765.00" fill="none" stroke="#141414" stroke-width="4.02"/>
<path d="M651.81,764.00 L651.56,764.50 L651.31,765.00 L651.06,765.50 L650.82,766.00 L650.59,766.50 L650.37,767.00 L650.15,767.50 L649.93,768.00 L649.73,768.50 L649.53,769.00 L649.34,769.50 L649.15,770.00 L648.97,770.50 L648.80,771.00" fill="none" stroke="#141414" stroke-width="3.97"/>
<path d="M649.15,770.00 L648.97,770.50 L648.80,771.00 L648.64,771.50 L648.48,772.00 L648.33,772.50 L648.19,773.00 L648.06,773.50 L647.93,774.00 L647.81,774.50 L647.70,775.00 L647.59,775.50 L647.50,776.00 L647.41,776.50 L647.33,777.00" fill="none" stroke="#141414" stroke-width="3.92"/>
<path d="M647.50,776.00 L647.41,776.50 L647.33,777.00 L647.25,777.50 L647.19,778.00 L647.13,778.50 L647.08,779.00 L647.04,779.50 L647.01,780.00 L646.98,780.50 L646.96,781.00 L646.95,781.50 L646.95,782.00 L646.96,782.50 L646.98,783.00" fill="none" stroke="#141414" stroke-width="3.87"/>
<path d="M646.95,782.00 L646.96,782.50 L646.98,783.00 L647.00,783.50" fill="none" stroke="#141414" stroke-width="3.84"/>
<path d="M686.29,728.50 L686.11,729.00 L685.93,729.50 L685.75,730.00 L685.55,730.50 L685.35,731.00 L685.15,731.50 L684.94,732.00 L684.72,732.50 L684.50,733.00 L684.27,733.50 L684.03,734.00 L683.79,734.50 L683.54,735.00 L683.29,735.50 L683.03,736.00 L682.77,736.50 L682.50,737.00 L682.23,737.50 L681.95,738.00 L681.67,738.50 L681.38,739.00 L681.08,739.50 L680.78,740.00 L680.48,740.50 L680.17,741.00 L679.86,741.50 L679.54,742.00 L679.22,742.50 L678.90,743.00 L678.57,743.50 L678.23,744.00 L677.89,744.50 L677.55,745.00 L677.21,745.50 L676.86,746.00 L676.51,746.50 L676.15,747.00 L675.79,747.50 L675.43,748.00 L675.07,748.50 L674.70,749.00 L674.33,749.50 L673.96,750.00 L673.58,750.50 L673.20,751.00 L672.82,751.50 L672.44,752.00 L672.06,752.50 L671.67,753.00 L671.29,753.50 L670.90,754.00 L670.51,754.50 L670.12,755.00 L669.73,755.50 L669.33,756.00 L668.94,756.50 L668.54,757.00 L668.15,757.50 L667.75,758.00 L667.36,758.50 L666.96,759.00 L666.57,759.50 L666.17,760.00 L665.78,760.50 L665.38,761.00 L664.99,761.50 L664.60,762.00 L664.21,762.50 L663.82,763.00 L663.43,763.50 L663.04,764.00 L662.65,764.50 L662.27,765.00" fill="none" stroke="#141414" stroke-width="2.2"/>
<path d="M653.33,590.00 L653.00,590.50 L652.68,591.00 L652.35,591.50 L652.03,592.00 L651.71,592.50 L651.40,593.00 L651.09,593.50 L650.78,594.00 L650.48,594.50 L650.18,595.00 L649.88,595.50 L649.59,596.00 L649.30,596.50" fill="none" stroke="#141414" stroke-width="1.35"/>
<path d="M649.88,595.50 L649.59,596.00 L649.30,596.50 L649.01,597.00 L648.73,597.50 L648.45,598.00 L648.17,598.50 L647.90,599.00 L647.64,599.50 L647.37,600.00 L647.11,600.50 L646.86,601.00 L646.61,601.50 L646.36,602.00 L646.12,602.50" fill="none" stroke="#141414" stroke-width="2.67"/>
<path d="M646.61,601.50 L646.36,602.00 L646.12,602.50 L645.88,603.00 L645.65,603.50 L645.42,604.00 L645.20,604.50 L644.98,605.00 L644.76,605.50 L644.55,606.00 L644.34,606.50 L644.14,607.00 L643.94,607.50 L643.75,608.00 L643.57,608.50" fill="none" stroke="#141414" stroke-width="4.41"/>
<path d="M643.94,607.50 L643.75,608.00 L643.57,608.50 L643.38,609.00 L643.21,609.50 L643.03,610.00 L642.87,610.50 L642.70,611.00 L642.55,611.50 L642.39,612.00 L642.25,612.50 L642.11,613.00 L641.97,613.50 L641.84,614.00 L641.71,614.50" fill="none" stroke="#141414" stroke-width="5.25"/>
<path d="M641.97,613.50 L641.84,614.00 L641.71,614.50 L641.59,615.00 L641.48,615.50 L641.36,616.00 L641.26,616.50 L641.16,617.00 L641.07,617.50 L640.98,618.00 L640.89,618.50 L640.82,619.00 L640.74,619.50 L640.68,620.00 L640.62,620.50" fill="none" stroke="#141414" stroke-width="5.20"/>
<path d="M640.74,619.50 L640.68,620.00 L640.62,620.50 L640.56,621.00 L640.51,621.50 L640.47,622.00 L640.43,622.50 L640.39,623.00 L640.37,623.50 L640.34,624.00 L640.33,624.50 L640.32,625.00 L640.31,625.50 L640.31,626.00 L640.32,626.50" fill="none" stroke="#141414" stroke-width="5.15"/>
<path d="M640.31,625.50 L640.31,626.00 L640.32,626.50 L640.33,627.00 L640.35,627.50 L640.37,628.00 L640.40,628.50" fill="none" stroke="#141414" stroke-width="5.12"/>
<path d="M688.02,724.50 L687.99,725.00 L687.96,725.50 L687.91,726.00 L687.87,726.50 L687.81,727.00 L687.75,727.50 L687.68,728.00 L687.60,728.50 L687.52,729.00 L687.43,729.50 L687.34,730.00 L687.23,730.50 L687.12,731.00" fill="none" stroke="#141414" stroke-width="4.30"/>
<path d="M687.34,730.00 L687.23,730.50 L687.12,731.00 L687.00,731.50 L686.88,732.00 L686.75,732.50 L686.61,733.00 L686.47,733.50 L686.32,734.00 L686.16,734.50 L686.00,735.00 L685.83,735.50 L685.65,736.00 L685.46,736.50 L685.28,737.00" fill="none" stroke="#141414" stroke-width="4.26"/>
<path d="M685.65,736.00 L685.46,736.50 L685.28,737.00 L685.08,737.50 L684.88,738.00 L684.67,738.50 L684.45,739.00 L684.23,739.50 L684.01,740.00 L683.77,740.50 L683.53,741.00 L683.29,741.50 L683.04,742.00 L682.78,742.50 L682.52,743.00" fill="none" stroke="#141414" stroke-width="4.21"/>
<path d="M683.04,742.00 L682.78,742.50 L682.52,743.00 L682.26,743.50 L681.98,744.00 L681.71,744.50 L681.42,745.00 L681.14,745.50 L680.84,746.00 L680.54,746.50 L680.24,747.00 L679.94,747.50 L679.62,748.00 L679.31,748.50 L678.99,749.00" fill="none" stroke="#141414" stroke-width="4.16"/>
<path d="M679.62,748.00 L679.31,748.50 L678.99,749.00 L678.66,749.50 L678.33,750.00 L678.00,750.50 L677.66,751.00 L677.32,751.50 L676.97,752.00 L676.63,752.50 L676.27,753.00 L675.92,753.50 L675.56,754.00 L675.20,754.50 L674.83,755.00" fill="none" stroke="#141414" stroke-width="4.11"/>
<path d="M675.56,754.00 L675.20,754.50 L674.83,755.00 L674.46,755.50 L674.09,756.00 L673.72,756.50 L673.35,757.00 L672.97,757.50 L672.59,758.00 L672.21,758.50 L671.82,759.00 L671.44,759.50 L671.05,760.00 L670.66,760.50 L670.27,761.00" fill="none" stroke="#141414" stroke-width="4.06"/>
<path d="M671.05,760.00 L670.66,760.50 L670.27,761.00 L669.88,761.50 L669.49,762.00 L669.09,762.50 L668.70,763.00 L668.30,763.50 L667.91,764.00 L667.51,764.50 L667.12,765.00 L666.72,765.50 L666.33,766.00 L665.93,766.50 L665.54,767.00" fill="none" stroke="#141414" stroke-width="4.01"/>
<path d="M666.33,766.00 L665.93,766.50 L665.54,767.00 L665.15,767.50 L664.75,768.00 L664.36,768.50 L663.97,769.00 L663.58,769.50 L663.19,770.00 L662.81,770.50 L662.42,771.00 L662.04,771.50 L661.66,772.00 L661.28,772.50 L660.90,773.00" fill="none" stroke="#141414" stroke-width="3.96"/>
<path d="M661.66,772.00 L661.28,772.50 L660.90,773.00 L660.53,773.50 L660.16,774.00 L659.79,774.50 L659.42,775.00 L659.06,775.50 L658.70,776.00 L658.35,776.50 L658.00,777.00 L657.65,777.50 L657.30,778.00 L656.96,778.50 L656.63,779.00" fill="none" stroke="#141414" stroke-width="3.91"/>
<path d="M657.30,778.00 L656.96,778.50 L656.63,779.00 L656.29,779.50 L655.97,780.00 L655.65,780.50 L655.33,781.00 L655.01,781.50 L654.71,782.00 L654.40,782.50 L654.11,783.00 L653.81,783.50 L653.53,784.00 L653.25,784.50 L652.97,785.00" fill="none" stroke="#141414" stroke-width="3.86"/>
<path d="M653.53,784.00 L653.25,784.50 L652.97,785.00 L652.70,785.50 L652.44,786.00 L652.18,786.50 L651.93,787.00 L651.69,787.50 L651.45,788.00 L651.22,788.50 L651.00,789.00 L650.78,789.50 L650.57,790.00 L650.37,790.50 L650.17,791.00" fill="none" stroke="#141414" stroke-width="3.80"/>
<path d="M650.57,790.00 L650.37,790.50 L650.17,791.00 L649.99,791.50 L649.81,792.00 L649.63,792.50 L649.47,793.00 L649.31,793.50 L649.16,794.00 L649.02,794.50 L648.88,795.00 L648.75,795.50 L648.64,796.00 L648.52,796.50 L648.42,797.00" fill="none" stroke="#141414" stroke-width="3.75"/>
<path d="M648.64,796.00 L648.52,796.50 L648.42,797.00 L648.33,797.50 L648.24,798.00 L648.16,798.50 L648.10,799.00 L648.03,799.50 L647.98,800.00 L647.94,800.50 L647.90,801.00 L647.88,801.50 L647.86,802.00 L647.85,802.50 L647.85,803.00" fill="none" stroke="#141414" stroke-width="3.70"/>
<path d="M647.86,802.00 L647.85,802.50 L647.85,803.00 L647.86,803.50 L647.88,804.00 L647.90,804.50" fill="none" stroke="#141414" stroke-width="3.67"/>
<path d="M684.76,753.00 L684.58,753.50 L684.39,754.00 L684.20,754.50 L684.00,755.00 L683.79,755.50 L683.58,756.00 L683.36,756.50 L683.14,757.00 L682.90,757.50 L682.67,758.00 L682.42,758.50 L682.17,759.00 L681.92,759.50 L681.66,760.00 L681.39,760.50 L681.12,761.00 L680.84,761.50 L680.55,762.00 L680.26,762.50 L679.97,763.00 L679.67,763.50 L679.37,764.00 L679.06,764.50 L678.74,765.00 L678.42,765.50 L678.10,766.00 L677.77,766.50 L677.44,767.00 L677.11,767.50 L676.76,768.00 L676.42,768.50 L676.07,769.00 L675.72,769.50 L675.37,770.00 L675.01,770.50 L674.65,771.00 L674.28,771.50 L673.91,772.00 L673.54,772.50 L673.17,773.00 L672.79,773.50 L672.41,774.00 L672.03,774.50 L671.65,775.00 L671.27,775.50 L670.88,776.00 L670.49,776.50 L670.10,777.00 L669.71,777.50 L669.32,778.00 L668.93,778.50 L668.53,779.00 L668.14,779.50 L667.74,780.00 L667.35,780.50 L666.95,781.00 L666.56,781.50 L666.16,782.00 L665.77,782.50 L665.37,783.00 L664.98,783.50 L664.59,784.00 L664.19,784.50 L663.80,785.00 L663.42,785.50 L663.03,786.00 L662.64,786.50 L662.26,787.00" fill="none" stroke="#141414" stroke-width="2.2"/></g>
<g clip-path="url(#bodyclip)"><path d="M637.0,586.0 C636.9,584.2 636.1,578.6 636.3,575.0 C636.5,571.4 637.1,567.8 638.4,564.5 C639.7,561.2 641.4,558.0 644.0,555.4 C646.6,552.8 651.5,549.7 653.8,549.1 C656.1,548.5 657.3,549.9 658.0,551.9 C658.7,553.9 658.5,557.7 658.0,561.0 C657.5,564.3 656.4,568.5 655.2,571.5 C654.0,574.5 652.3,576.9 651.0,579.2 C649.7,581.5 649.2,582.7 647.5,585.5 C645.8,588.3 641.7,594.2 640.5,596.0" fill="none" stroke="#141414" stroke-width="3.1" stroke-linecap="round"/><path d="M653.0,551.2 C652.5,554.0 651.1,563.3 650.3,568.0 C649.5,572.7 648.6,577.3 648.2,579.2" fill="none" stroke="#141414" stroke-width="3.1" stroke-linecap="round"/><path d="M647.5,579.2 C649.0,577.6 653.5,572.4 656.6,569.4 C659.8,566.4 663.2,563.8 666.4,561.0 C669.5,558.2 672.5,554.6 675.5,552.6 C678.5,550.6 682.6,549.2 684.6,549.1 C686.6,549.0 687.2,549.9 687.4,551.9 C687.6,553.9 687.2,557.7 686.0,561.0 C684.8,564.3 682.7,568.0 680.4,571.5 C678.1,575.0 675.1,577.9 672.0,582.0 C668.9,586.1 664.7,591.3 661.5,596.0 C658.3,600.7 654.4,607.7 653.0,610.0" fill="none" stroke="#141414" stroke-width="3.1" stroke-linecap="round"/><path d="M683.9,551.9 C681.9,554.6 674.9,563.0 672.0,568.0 C669.1,573.0 667.3,579.7 666.4,582.0" fill="none" stroke="#141414" stroke-width="3.1" stroke-linecap="round"/><path d="M695.8,556.8 C694.2,559.2 689.5,566.7 686.0,571.5 C682.5,576.3 678.3,580.8 674.8,585.5 C671.3,590.2 666.6,597.2 665.0,599.5" fill="none" stroke="#141414" stroke-width="3.1" stroke-linecap="round"/></g>
<path d="M649,828 C652,841 658,845 666,845 C675,845 681,840 683,828" fill="none" stroke="#141414" stroke-width="6"/>
<path d="M652,836 C660,832 672,832 680,836" fill="none" stroke="#141414" stroke-width="4"/>
<path d="M631.75,527.00 L631.84,528.00 L631.93,529.00 L632.02,530.00 L632.11,531.00 L632.20,532.00 L632.30,533.00 L632.39,534.00 L632.48,535.00 L632.57,536.00 L632.66,537.00 L632.75,538.00 L632.84,539.00 L632.93,540.00 L633.02,541.00 L633.11,542.00 L633.20,543.00 L633.30,544.00 L633.39,545.00 L633.48,546.00 L633.57,547.00 L633.66,548.00 L633.75,549.00 L633.84,550.00 L633.93,551.00 L634.02,552.00 L634.11,553.00 L634.20,554.00 L634.30,555.00 L634.39,556.00 L634.48,557.00 L634.57,558.00 L634.66,559.00 L634.75,560.00 L634.88,561.00 L635.02,562.00 L635.15,563.00 L635.28,564.00 L635.42,565.00 L635.55,566.00 L635.68,567.00 L635.82,568.00 L635.95,569.00 L636.08,570.00 L636.22,571.00 L636.35,572.00 L636.48,573.00 L636.62,574.00 L636.75,575.00 L636.88,576.00 L637.02,577.00 L637.15,578.00 L637.28,579.00 L637.42,580.00 L637.55,581.00 L637.68,582.00 L637.82,583.00 L637.95,584.00 L638.08,585.00 L638.22,586.00 L638.35,587.00 L638.48,588.00 L638.62,589.00 L638.75,590.00 L638.75,591.00 L638.77,592.00 L638.83,593.00 L638.89,594.00 L638.96,595.00 L639.01,596.00 L639.03,597.00 L639.01,598.00 L638.93,599.00 L638.80,600.00 L638.66,601.00 L638.50,602.00 L638.32,603.00 L638.13,604.00 L637.94,605.00 L637.76,606.00 L637.59,607.00 L637.46,608.00 L637.35,609.00 L637.29,610.00 L637.26,611.00 L637.29,612.00 L637.36,613.00 L637.47,614.00 L637.63,615.00 L637.83,616.00 L638.06,617.00 L638.32,618.00 L638.59,619.00 L638.87,620.00 L639.16,621.00 L639.43,622.00 L639.68,623.00 L639.90,624.00 L640.08,625.00 L640.22,626.00 L640.32,627.00 L640.37,628.00 L640.36,629.00 L640.31,630.00 L640.22,631.00 L640.08,632.00 L639.92,633.00 L639.73,634.00 L639.53,635.00 L639.32,636.00 L639.12,637.00 L638.94,638.00 L638.79,639.00 L638.68,640.00 L638.61,641.00 L638.58,642.00 L638.61,643.00 L638.69,644.00 L638.82,645.00 L639.00,646.00 L639.22,647.00 L639.48,648.00 L639.76,649.00 L640.06,650.00 L640.35,651.00 L640.64,652.00 L640.91,653.00 L641.15,654.00 L641.35,655.00 L641.50,656.00 L641.60,657.00 L641.64,658.00 L641.63,659.00 L641.56,660.00 L641.45,661.00 L641.29,662.00 L641.11,663.00 L640.90,664.00 L640.68,665.00 L640.46,666.00 L640.26,667.00 L640.08,668.00 L639.95,669.00 L639.86,670.00 L639.82,671.00 L639.85,672.00 L639.93,673.00 L640.07,674.00 L640.26,675.00 L640.50,676.00 L640.78,677.00 L641.08,678.00 L641.39,679.00 L641.70,680.00 L641.99,681.00 L642.26,682.00 L642.49,683.00 L642.66,684.00 L642.78,685.00 L642.84,686.00 L642.83,687.00 L642.77,688.00 L642.64,689.00 L642.48,690.00 L642.27,691.00 L642.04,692.00 L641.81,693.00 L641.58,694.00 L641.37,695.00 L641.20,696.00 L641.07,697.00 L641.00,698.00 L641.00,699.00 L641.06,700.00 L641.19,701.00 L641.38,702.00 L641.62,703.00 L641.91,704.00 L642.22,705.00 L642.55,706.00 L642.88,707.00 L643.18,708.00 L643.46,709.00 L643.68,710.00 L643.85,711.00 L643.95,712.00 L643.97,713.00 L643.93,714.00 L643.83,715.00 L643.66,716.00 L643.45,717.00 L643.21,718.00 L642.96,719.00 L642.71,720.00 L642.49,721.00 L642.30,722.00 L642.17,723.00 L642.10,724.00 L642.10,725.00 L642.18,726.00 L642.34,727.00 L642.56,728.00 L642.83,729.00 L643.15,730.00 L643.49,731.00 L643.84,732.00 L644.17,733.00 L644.47,734.00 L644.72,735.00 L644.90,736.00 L645.01,737.00 L645.04,738.00 L644.99,739.00 L644.87,740.00 L644.68,741.00 L644.45,742.00 L644.18,743.00 L643.91,744.00 L643.65,745.00 L643.43,746.00 L643.26,747.00 L643.15,748.00 L643.13,749.00 L643.19,750.00 L643.33,751.00 L643.55,752.00 L643.84,753.00 L644.17,754.00 L644.53,755.00 L644.90,756.00 L645.24,757.00 L645.55,758.00 L645.79,759.00 L645.96,760.00 L646.04,761.00 L646.03,762.00 L645.93,763.00 L645.76,764.00 L645.52,765.00 L645.25,766.00 L644.96,767.00 L644.68,768.00 L644.43,769.00 L644.24,770.00 L644.13,771.00 L644.11,772.00 L644.18,773.00 L644.35,774.00 L644.60,775.00 L644.92,776.00 L645.28,777.00 L645.67,778.00 L646.04,779.00 L646.39,780.00 L646.67,781.00 L646.87,782.00 L646.97,783.00 L646.98,784.00 L646.89,785.00 L646.70,786.00 L646.45,787.00 L646.16,788.00 L645.85,789.00 L645.55,790.00 L645.30,791.00 L645.12,792.00 L645.03,793.00 L645.05,794.00 L645.17,795.00 L645.40,796.00 L645.71,797.00 L646.08,798.00 L646.48,799.00 L646.88,800.00 L647.25,801.00 L647.56,802.00 L647.77,803.00 L647.88,804.00 L647.87,805.00 L647.75,806.00 L647.54,807.00 L647.26,808.00 L646.94,809.00 L646.61,810.00 L646.32,811.00 L646.09,812.00 L645.95,813.00 L645.92,814.00 L646.01,815.00 L646.21,816.00 L646.51,817.00 L646.89,818.00 L647.31,819.00 L647.73,820.00 L648.12,821.00 L648.44,822.00 L648.66,823.00 L648.76,824.00 L648.73,825.00 L648.85,826.57 L649.01,828.13 L649.27,829.67 L649.62,831.18 L650.08,832.65 L650.64,834.08 L651.28,835.45 L652.02,836.76 L652.84,837.99 L653.74,839.14 L654.71,840.21 L655.75,841.18 L656.85,842.05 L658.00,842.82 L659.20,843.48 L660.44,844.02 L661.72,844.45 L663.01,844.75 L664.33,844.94 L665.65,845.00 L666.97,844.94 L668.29,844.75 L669.58,844.45 L670.86,844.02 L672.10,843.48 L673.30,842.82 L674.45,842.05 L675.55,841.18 L676.59,840.21 L677.56,839.14 L678.46,837.99 L679.28,836.76 L680.02,835.45 L680.66,834.08 L681.22,832.65 L681.68,831.18 L682.03,829.67 L682.29,828.13 L682.45,826.57 L684.83,825.00 L684.94,824.00 L684.92,823.00 L684.78,822.00 L684.54,821.00 L684.23,820.00 L683.89,819.00 L683.55,818.00 L683.25,817.00 L683.03,816.00 L682.91,815.00 L682.90,814.00 L683.01,813.00 L683.23,812.00 L683.54,811.00 L683.91,810.00 L684.32,809.00 L684.72,808.00 L685.08,807.00 L685.37,806.00 L685.57,805.00 L685.66,804.00 L685.63,803.00 L685.50,802.00 L685.27,801.00 L684.98,800.00 L684.68,799.00 L684.38,798.00 L684.12,797.00 L683.91,796.00 L683.79,795.00 L683.77,794.00 L683.86,793.00 L684.05,792.00 L684.33,791.00 L684.69,790.00 L685.09,789.00 L685.50,788.00 L685.90,787.00 L686.26,786.00 L686.54,785.00 L686.74,784.00 L686.84,783.00 L686.84,782.00 L686.74,781.00 L686.56,780.00 L686.32,779.00 L686.05,778.00 L685.77,777.00 L685.51,776.00 L685.29,775.00 L685.15,774.00 L685.08,773.00 L685.12,772.00 L685.24,771.00 L685.46,770.00 L685.75,769.00 L686.10,768.00 L686.48,767.00 L686.88,766.00 L687.26,765.00 L687.59,764.00 L687.87,763.00 L688.07,762.00 L688.19,761.00 L688.21,760.00 L688.15,759.00 L688.01,758.00 L687.81,757.00 L687.57,756.00 L687.30,755.00 L687.05,754.00 L686.82,753.00 L686.64,752.00 L686.52,751.00 L686.48,750.00 L686.52,749.00 L686.65,748.00 L686.86,747.00 L687.14,746.00 L687.46,745.00 L687.83,744.00 L688.20,743.00 L688.57,742.00 L688.91,741.00 L689.20,740.00 L689.42,739.00 L689.58,738.00 L689.65,737.00 L689.65,736.00 L689.57,735.00 L689.42,734.00 L689.23,733.00 L689.00,732.00 L688.76,731.00 L688.52,730.00 L688.30,729.00 L688.13,728.00 L688.01,727.00 L687.97,726.00 L687.99,725.00 L688.09,724.00 L688.26,723.00 L688.50,722.00 L688.79,721.00 L689.12,720.00 L689.47,719.00 L689.82,718.00 L690.17,717.00 L690.48,716.00 L690.75,715.00 L690.96,714.00 L691.11,713.00 L691.18,712.00 L691.19,711.00 L691.12,710.00 L691.00,709.00 L690.83,708.00 L690.63,707.00 L690.41,706.00 L690.18,705.00 L689.97,704.00 L689.79,703.00 L689.65,702.00 L689.56,701.00 L689.54,700.00 L689.58,699.00 L689.69,698.00 L689.86,697.00 L690.09,696.00 L690.37,695.00 L690.68,694.00 L691.01,693.00 L691.35,692.00 L691.69,691.00 L691.99,690.00 L692.27,689.00 L692.49,688.00 L692.66,687.00 L692.77,686.00 L692.82,685.00 L692.81,684.00 L692.73,683.00 L692.61,682.00 L692.45,681.00 L692.26,680.00 L692.05,679.00 L691.84,678.00 L691.64,677.00 L691.47,676.00 L691.34,675.00 L691.25,674.00 L691.21,673.00 L691.23,672.00 L691.31,671.00 L691.45,670.00 L691.65,669.00 L691.89,668.00 L692.16,667.00 L692.47,666.00 L692.79,665.00 L693.11,664.00 L693.43,663.00 L693.72,662.00 L693.98,661.00 L694.20,660.00 L694.37,659.00 L694.48,658.00 L694.54,657.00 L694.55,656.00 L694.50,655.00 L694.40,654.00 L694.27,653.00 L694.11,652.00 L693.92,651.00 L693.73,650.00 L693.54,649.00 L693.36,648.00 L693.21,647.00 L693.09,646.00 L693.01,645.00 L692.99,644.00 L693.01,643.00 L693.08,642.00 L693.21,641.00 L693.39,640.00 L693.61,639.00 L693.86,638.00 L694.14,637.00 L694.45,636.00 L694.75,635.00 L695.06,634.00 L695.35,633.00 L695.62,632.00 L695.86,631.00 L696.06,630.00 L696.21,629.00 L696.32,628.00 L696.38,627.00 L696.39,626.00 L696.35,625.00 L696.27,624.00 L696.15,623.00 L696.00,622.00 L695.84,621.00 L695.66,620.00 L695.48,619.00 L695.31,618.00 L695.16,617.00 L695.03,616.00 L694.94,615.00 L694.88,614.00 L694.87,613.00 L694.90,612.00 L694.98,611.00 L695.11,610.00 L695.28,609.00 L695.49,608.00 L695.73,607.00 L696.00,606.00 L696.28,605.00 L696.57,604.00 L696.87,603.00 L697.15,602.00 L697.42,601.00 L697.66,600.00 L697.66,599.00 L697.60,598.00 L697.48,597.00 L697.32,596.00 L697.14,595.00 L696.94,594.00 L696.74,593.00 L696.55,592.00 L696.38,591.00 L696.25,590.00 L696.32,589.00 L696.38,588.00 L696.45,587.00 L696.52,586.00 L696.58,585.00 L696.65,584.00 L696.72,583.00 L696.78,582.00 L696.85,581.00 L696.92,580.00 L696.98,579.00 L697.05,578.00 L697.12,577.00 L697.18,576.00 L697.25,575.00 L697.32,574.00 L697.38,573.00 L697.45,572.00 L697.52,571.00 L697.58,570.00 L697.65,569.00 L697.72,568.00 L697.78,567.00 L697.85,566.00 L697.92,565.00 L697.98,564.00 L698.05,563.00 L698.12,562.00 L698.18,561.00 L698.25,560.00 L698.28,559.00 L698.31,558.00 L698.34,557.00 L698.37,556.00 L698.40,555.00 L698.43,554.00 L698.46,553.00 L698.49,552.00 L698.52,551.00 L698.55,550.00 L698.58,549.00 L698.61,548.00 L698.64,547.00 L698.67,546.00 L698.70,545.00 L698.73,544.00 L698.77,543.00 L698.80,542.00 L698.83,541.00 L698.86,540.00 L698.89,539.00 L698.92,538.00 L698.95,537.00 L698.98,536.00 L699.01,535.00 L699.04,534.00 L699.07,533.00 L699.10,532.00 L699.13,531.00 L699.16,530.00 L699.19,529.00 L699.22,528.00 L699.25,527.00" fill="none" stroke="#141414" stroke-width="4.3"/>
<line x1="666" y1="93" x2="666" y2="174" stroke="#141414" stroke-width="2"/>
<line x1="666" y1="180" x2="666" y2="199" stroke="#141414" stroke-width="2"/>
<line x1="666" y1="206" x2="666" y2="312" stroke="#141414" stroke-width="2"/>
<line x1="666" y1="318" x2="666" y2="337" stroke="#141414" stroke-width="2"/>
<line x1="666" y1="342" x2="666" y2="449" stroke="#141414" stroke-width="2"/>
<line x1="666" y1="455" x2="666" y2="474" stroke="#141414" stroke-width="2"/>
<line x1="666" y1="481" x2="666" y2="862" stroke="#141414" stroke-width="2"/>
<path d="M632,528 L632,138 L636.5,133 L696,133 L700.25,138 L700.25,528" fill="none" stroke="#141414" stroke-width="4.3" stroke-linejoin="round"/>
<text transform="translate(372.53,175.70) scale(0.9550,1)" font-size="45.43">DCON MS</text>
<text transform="translate(448.12,395.00) scale(0.9429,1)" font-size="46.09">PSIR</text>
<text transform="translate(347.80,541.80) scale(0.9343,1)" font-size="45.51">RE</text>
<text transform="translate(523.95,703.00) scale(0.8951,1)" font-size="45.36">LB1</text>
<text transform="translate(718.20,732.60) scale(0.9622,1)" font-size="45.80">APMX / LU</text>
<text transform="translate(946.84,503.50) scale(1.0014,1)" font-size="45.65">LF</text>
<text transform="translate(736.53,897.40) scale(0.9583,1)" font-size="45.22">DC</text>
<g fill="none" stroke="#141414" stroke-width="2">
  <!-- centerline top -->
  <line x1="666" y1="93" x2="666" y2="131"/>
  <!-- LF top ext line -->
  <line x1="697" y1="132" x2="997" y2="132" stroke-width="2.2"/>
  <!-- LF vertical -->
  <line x1="971.8" y1="150" x2="971.8" y2="462.5" stroke-width="1.9"/>
  <line x1="971.8" y1="516" x2="971.8" y2="830" stroke-width="1.9"/>
  <!-- bottom line -->
  <line x1="520.8" y1="847" x2="997" y2="847" stroke-width="2.2"/>
  <!-- LB1 line -->
  <line x1="520.8" y1="526.8" x2="699" y2="526.8" stroke-width="2.2"/>
  <!-- LB1 vertical -->
  <line x1="561.8" y1="545" x2="561.8" y2="655"/>
  <line x1="561.8" y1="718" x2="561.8" y2="830"/>
  <!-- APMX line -->
  <line x1="639" y1="586.1" x2="851.7" y2="586.1" stroke-width="2.2"/>
  <line x1="826.8" y1="600" x2="826.8" y2="682"/>
  <line x1="826.8" y1="752" x2="826.8" y2="830"/>
  <!-- DCON MS arrows -->
  <line x1="581.2" y1="160.3" x2="605" y2="160.3"/>
  <line x1="725" y1="162.7" x2="750.6" y2="162.7"/>
  <!-- DC -->
  <line x1="646.4" y1="832" x2="646.4" y2="900.2"/>
  <line x1="685.2" y1="831.4" x2="685.2" y2="900.2"/>
  <line x1="665.7" y1="847" x2="665.7" y2="862"/>
  <line x1="598.4" y1="879.4" x2="622" y2="879.4"/>
  <line x1="710" y1="881.8" x2="733.5" y2="881.8"/>
  <!-- detail circle -->
  <circle cx="193.5" cy="368" r="191.8" stroke-width="2.3"/>
  <!-- leader line circle to tip -->
  <line x1="204" y1="560" x2="544.8" y2="771.6" stroke-width="2.3"/>
  <line x1="580" y1="793.3" x2="646.4" y2="833.6" stroke-width="2.3"/>
  <!-- RE leader -->
  <polyline points="262,485.5 323.5,547.7 405,547.7" stroke-width="2.2"/>
  <!-- PSIR arc -->
  <path d="M553.8,366.8 A150.4,150.4 0 0 1 590,350.8" stroke-width="2.6"/>
  <path d="M664,351 A150.4,150.4 0 0 1 698.6,362.8" stroke-width="2.6"/>
  <!-- PSIR line -->
  <line x1="618.3" y1="324" x2="630" y2="527.5"/>
</g>
<g fill="#141414" stroke="none">
  <!-- arrowheads -->
  <polygon points="971.8,132.8 964.4,159.2 979.2,159.2"/>
  <polygon points="971.8,846 964.4,819.8 979.2,819.8"/>
  <polygon points="561.8,527.8 554.4,554 569.2,554"/>
  <polygon points="561.8,846 554.4,819.8 569.2,819.8"/>
  <polygon points="826.8,587 819.4,613.2 834.2,613.2"/>
  <polygon points="826.8,846 819.4,819.8 834.2,819.8"/>
  <polygon points="628.8,160.3 602.2,153 602.2,167.6"/>
  <polygon points="702.7,162.7 729.6,155.4 729.6,170.1"/>
  <polygon points="645,879.4 619.2,872.2 619.2,886.6"/>
  <polygon points="686.4,881.8 712.8,874.6 712.8,889.4"/>
  <polygon points="253,476.5 279,491.5 267,503"/>
  <polygon points="618.6,346.8 587.4,343.6 589.8,359.6"/>
  <polygon points="633.8,346 664.2,341.2 665.8,358"/>
</g>

</svg></body></html>
